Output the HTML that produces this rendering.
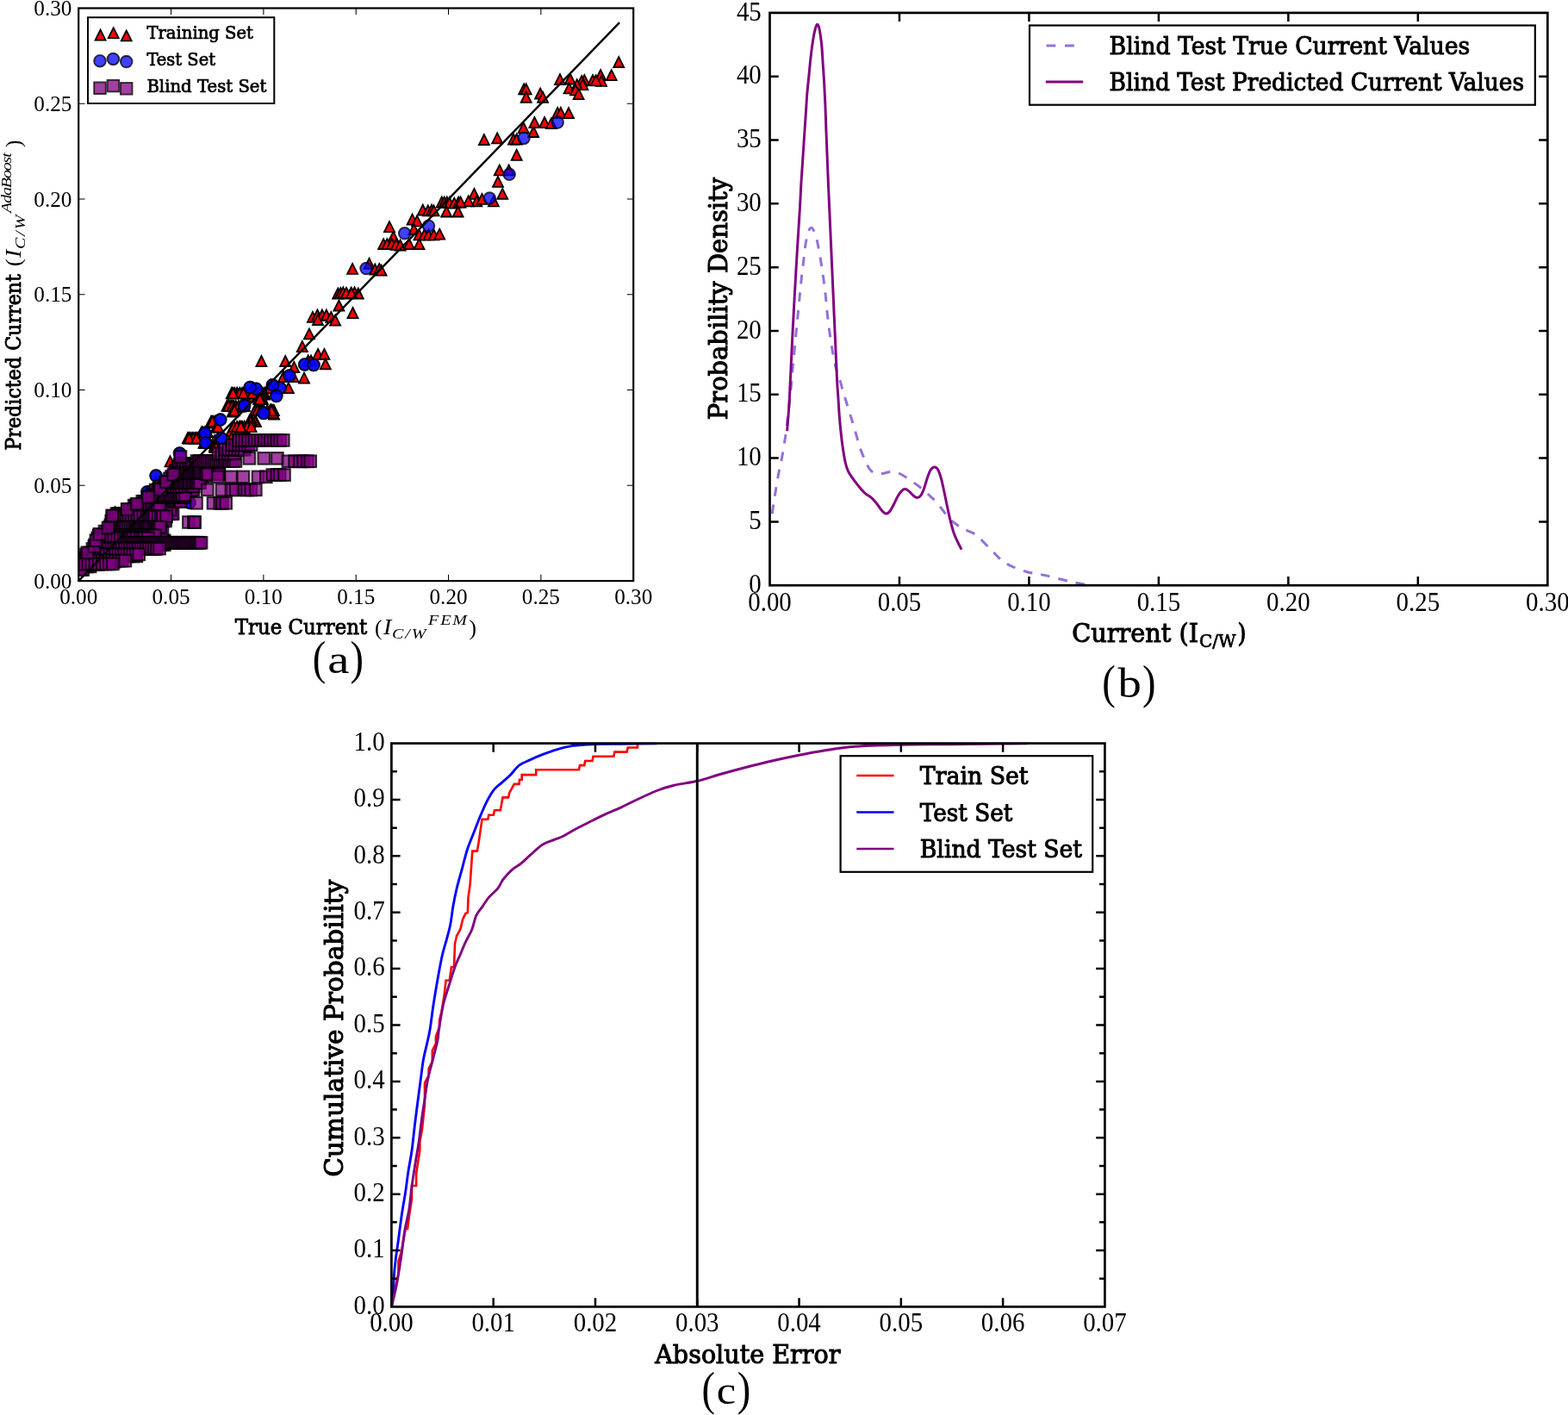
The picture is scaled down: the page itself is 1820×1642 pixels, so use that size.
<!DOCTYPE html>
<html lang="en"><head><meta charset="utf-8"><title>AdaBoost current prediction figure</title>
<style>html,body{margin:0;padding:0;background:#fff}body{width:1820px;height:1642px;overflow:hidden}svg{display:block}.t{font-family:"Liberation Serif","DejaVu Serif",serif;fill:#000}.l{font-family:"DejaVu Serif","Liberation Serif",serif;fill:#000;stroke:#000}</style></head><body>
<svg xmlns="http://www.w3.org/2000/svg" width="1820" height="1642" viewBox="0 0 1820 1642">
<rect width="1820" height="1642" fill="#fff"/>
<g id="pa">
<clipPath id="ca"><rect x="91.2" y="9.5" width="644.0" height="664.6"/></clipPath>
<g clip-path="url(#ca)">
<g id="tr" fill="#f00" stroke="#000" stroke-width="1.8">
<path d="M619.2 147l6 12h-12z"/><path d="M718.2 66l6 12h-12z"/><path d="M709.7 81.2l6 12h-12z"/><path d="M697.1 81l6 12h-12z"/><path d="M698.1 87.9l6 12h-12z"/><path d="M688 87l6 12h-12z"/><path d="M691.7 87.3l6 12h-12z"/><path d="M678.3 87l6 12h-12z"/><path d="M675.2 87.9l6 12h-12z"/><path d="M676.4 92.2l6 12h-12z"/><path d="M661.8 85.5l6 12h-12z"/><path d="M650 86.1l6 12h-12z"/><path d="M660.6 96.4l6 12h-12z"/><path d="M669.7 92.2l6 12h-12z"/><path d="M667.9 98.3l6 12h-12z"/><path d="M671.6 103.1l6 12h-12z"/><path d="M608.2 97.3l6 12h-12z"/><path d="M610.7 97.3l6 12h-12z"/><path d="M610.7 106.8l6 12h-12z"/><path d="M627.1 102.5l6 12h-12z"/><path d="M630.1 106.8l6 12h-12z"/><path d="M647.2 124.8l6 12h-12z"/><path d="M650.9 124.8l6 12h-12z"/><path d="M660 125.1l6 12h-12z"/><path d="M620.4 136l6 12h-12z"/><path d="M632 136l6 12h-12z"/><path d="M639.9 137.2l6 12h-12z"/><path d="M607.6 142.1l6 12h-12z"/><path d="M561.9 156.1l6 12h-12z"/><path d="M577.2 154.3l6 12h-12z"/><path d="M596 155.5l6 12h-12z"/><path d="M599.7 155.5l6 12h-12z"/><path d="M599.7 173.8l6 12h-12z"/><path d="M579.8 191.4l6 12h-12z"/><path d="M590.6 191.4l6 12h-12z"/><path d="M578 204.8l6 12h-12z"/><path d="M583.2 218.9l6 12h-12z"/><path d="M550.4 218.9l6 12h-12z"/><path d="M553.4 227.4l6 12h-12z"/><path d="M559.5 224.9l6 12h-12z"/><path d="M543.7 227.4l6 12h-12z"/><path d="M572.9 227.4l6 12h-12z"/><path d="M512.7 228.5l6 12h-12z"/><path d="M515.7 228.5l6 12h-12z"/><path d="M518.8 228.5l6 12h-12z"/><path d="M521.8 229.1l6 12h-12z"/><path d="M527.3 229.7l6 12h-12z"/><path d="M532.2 228.5l6 12h-12z"/><path d="M534.6 228.5l6 12h-12z"/><path d="M490.8 237.6l6 12h-12z"/><path d="M496.8 238.3l6 12h-12z"/><path d="M501.1 237.6l6 12h-12z"/><path d="M503.5 238.3l6 12h-12z"/><path d="M518.2 239.5l6 12h-12z"/><path d="M531.6 239.5l6 12h-12z"/><path d="M478.6 248.6l6 12h-12z"/><path d="M484.1 250.4l6 12h-12z"/><path d="M452 257.1l6 12h-12z"/><path d="M456.6 268.7l6 12h-12z"/><path d="M480.4 260.2l6 12h-12z"/><path d="M486.5 266.3l6 12h-12z"/><path d="M492.6 266.3l6 12h-12z"/><path d="M497.5 266.3l6 12h-12z"/><path d="M503.5 266.3l6 12h-12z"/><path d="M510.2 265.7l6 12h-12z"/><path d="M445.1 277.2l6 12h-12z"/><path d="M449.3 277.2l6 12h-12z"/><path d="M454.8 277.2l6 12h-12z"/><path d="M459.7 277.8l6 12h-12z"/><path d="M464.6 278.5l6 12h-12z"/><path d="M474.9 277.2l6 12h-12z"/><path d="M486.5 277.2l6 12h-12z"/><path d="M409.1 305.9l6 12h-12z"/><path d="M428.6 299.8l6 12h-12z"/><path d="M435.3 306.5l6 12h-12z"/><path d="M440.2 305.9l6 12h-12z"/><path d="M442.6 307.7l6 12h-12z"/><path d="M402.4 334.5l6 12h-12z"/><path d="M407.3 333.9l6 12h-12z"/><path d="M411.6 333.3l6 12h-12z"/><path d="M415.8 334.5l6 12h-12z"/><path d="M409.5 357l6 12h-12z"/><path d="M392.2 334.5l6 12h-12z"/><path d="M395.2 333.9l6 12h-12z"/><path d="M398.3 333.3l6 12h-12z"/><path d="M401.9 333.9l6 12h-12z"/><path d="M408 333.9l6 12h-12z"/><path d="M393.4 348.5l6 12h-12z"/><path d="M362.9 361.9l6 12h-12z"/><path d="M368.4 359.5l6 12h-12z"/><path d="M373.9 359.5l6 12h-12z"/><path d="M378.8 359.5l6 12h-12z"/><path d="M384.3 361.9l6 12h-12z"/><path d="M389.1 365.6l6 12h-12z"/><path d="M369 365l6 12h-12z"/><path d="M358.9 381.4l6 12h-12z"/><path d="M350.8 396l6 12h-12z"/><path d="M303.4 413l6 12h-12z"/><path d="M331.2 413l6 12h-12z"/><path d="M341.3 420l6 12h-12z"/><path d="M369.1 404.9l6 12h-12z"/><path d="M376.4 404.9l6 12h-12z"/><path d="M377.8 416.3l6 12h-12z"/><path d="M357.7 412.3l6 12h-12z"/><path d="M361 412.6l6 12h-12z"/><path d="M353 432.7l6 12h-12z"/><path d="M334.9 444.1l6 12h-12z"/><path d="M314.8 469.6l6 12h-12z"/><path d="M318.1 474.6l6 12h-12z"/><path d="M269.2 450.3l6 12h-12z"/><path d="M275.6 450.3l6 12h-12z"/><path d="M287 452.3l6 12h-12z"/><path d="M294.3 454.3l6 12h-12z"/><path d="M303 453.6l6 12h-12z"/><path d="M307.1 451.6l6 12h-12z"/><path d="M273.6 466l6 12h-12z"/><path d="M270.2 471.7l6 12h-12z"/><path d="M245.1 483.4l6 12h-12z"/><path d="M251.4 489.8l6 12h-12z"/><path d="M296.3 469l6 12h-12z"/><path d="M313.8 470l6 12h-12z"/><path d="M317.1 473.1l6 12h-12z"/><path d="M289.6 482.1l6 12h-12z"/><path d="M277.6 489.5l6 12h-12z"/><path d="M271.5 489.1l6 12h-12z"/><path d="M268.2 494.2l6 12h-12z"/><path d="M249.1 504.9l6 12h-12z"/><path d="M297 483.1l6 12h-12z"/><path d="M283.6 490.5l6 12h-12z"/><path d="M245.6 484.5l6 12h-12z"/><path d="M277.8 491.2l6 12h-12z"/><path d="M289.8 484.1l6 12h-12z"/><path d="M218.8 502.6l6 12h-12z"/><path d="M223.5 502.6l6 12h-12z"/><path d="M227.5 503.2l6 12h-12z"/><path d="M249 511.3l6 12h-12z"/><path d="M268.4 493.9l6 12h-12z"/><path d="M329 431.1l6 12h-12z"/><path d="M340.5 431.1l6 12h-12z"/><path d="M312 444.1l6 12h-12z"/><path d="M318.5 444.1l6 12h-12z"/><path d="M315.6 444.1l6 12h-12z"/><path d="M313.6 444.4l6 12h-12z"/><path d="M268.9 450l6 12h-12z"/><path d="M275 450l6 12h-12z"/><path d="M281 450l6 12h-12z"/><path d="M285.5 450l6 12h-12z"/><path d="M291.5 450l6 12h-12z"/><path d="M297 450l6 12h-12z"/><path d="M302 450l6 12h-12z"/><path d="M307 450l6 12h-12z"/><path d="M272.3 450l6 12h-12z"/><path d="M278.4 450l6 12h-12z"/><path d="M283.6 450l6 12h-12z"/><path d="M288.9 450l6 12h-12z"/><path d="M294.6 450l6 12h-12z"/><path d="M299.9 450l6 12h-12z"/><path d="M304.9 450l6 12h-12z"/><path d="M270.5 450.3l6 12h-12z"/><path d="M282.6 450.3l6 12h-12z"/><path d="M293.1 450.3l6 12h-12z"/><path d="M303.6 450.3l6 12h-12z"/><path d="M300 456.8l6 12h-12z"/><path d="M305 456.8l6 12h-12z"/><path d="M302.9 456.8l6 12h-12z"/><path d="M301.6 457.1l6 12h-12z"/><path d="M263.5 464.8l6 12h-12z"/><path d="M265.5 464.8l6 12h-12z"/><path d="M268 464.8l6 12h-12z"/><path d="M273.6 464.8l6 12h-12z"/><path d="M279.5 464.8l6 12h-12z"/><path d="M284 464.8l6 12h-12z"/><path d="M264.9 464.8l6 12h-12z"/><path d="M267.1 464.8l6 12h-12z"/><path d="M271.2 464.8l6 12h-12z"/><path d="M276.9 464.8l6 12h-12z"/><path d="M282.1 464.8l6 12h-12z"/><path d="M265.1 465.1l6 12h-12z"/><path d="M269.6 465.1l6 12h-12z"/><path d="M281.1 465.1l6 12h-12z"/><path d="M270.4 470l6 12h-12z"/><path d="M296.3 470l6 12h-12z"/><path d="M301 470l6 12h-12z"/><path d="M306 470l6 12h-12z"/><path d="M313.6 470l6 12h-12z"/><path d="M317.9 470l6 12h-12z"/><path d="M299 470l6 12h-12z"/><path d="M303.9 470l6 12h-12z"/><path d="M310.2 470l6 12h-12z"/><path d="M316.1 470l6 12h-12z"/><path d="M272 470.3l6 12h-12z"/><path d="M302.6 470.3l6 12h-12z"/><path d="M315.2 470.3l6 12h-12z"/><path d="M245 482.9l6 12h-12z"/><path d="M249.5 482.9l6 12h-12z"/><path d="M289.3 482.9l6 12h-12z"/><path d="M295.7 482.9l6 12h-12z"/><path d="M247.7 482.9l6 12h-12z"/><path d="M292.9 482.9l6 12h-12z"/><path d="M246.6 483.2l6 12h-12z"/><path d="M290.9 483.2l6 12h-12z"/><path d="M251.4 488.8l6 12h-12z"/><path d="M271.5 488.8l6 12h-12z"/><path d="M277.9 488.8l6 12h-12z"/><path d="M283.6 488.8l6 12h-12z"/><path d="M290 488.8l6 12h-12z"/><path d="M275.1 488.8l6 12h-12z"/><path d="M281.1 488.8l6 12h-12z"/><path d="M287.2 488.8l6 12h-12z"/><path d="M253 489.1l6 12h-12z"/><path d="M279.5 489.1l6 12h-12z"/><path d="M291.6 489.1l6 12h-12z"/><path d="M234 495.3l6 12h-12z"/><path d="M241 495.3l6 12h-12z"/><path d="M237.9 495.3l6 12h-12z"/><path d="M235.6 495.6l6 12h-12z"/><path d="M217.9 502.2l6 12h-12z"/><path d="M222.1 502.2l6 12h-12z"/><path d="M226.4 502.2l6 12h-12z"/><path d="M230 502.2l6 12h-12z"/><path d="M236 502.2l6 12h-12z"/><path d="M268.6 502.2l6 12h-12z"/><path d="M220.4 502.2l6 12h-12z"/><path d="M224.7 502.2l6 12h-12z"/><path d="M228.6 502.2l6 12h-12z"/><path d="M233.4 502.2l6 12h-12z"/><path d="M219.5 502.5l6 12h-12z"/><path d="M228 502.5l6 12h-12z"/><path d="M237.6 502.5l6 12h-12z"/><path d="M236.5 507.8l6 12h-12z"/><path d="M243 507.8l6 12h-12z"/><path d="M240.2 507.8l6 12h-12z"/><path d="M238.1 508.1l6 12h-12z"/><path d="M249.3 512.9l6 12h-12z"/><path d="M250.9 513.2l6 12h-12z"/><path d="M197.5 529.3l6 12h-12z"/><path d="M199.5 538.3l6 12h-12z"/><path d="M203 538.3l6 12h-12z"/><path d="M181 553.3l6 12h-12z"/><path d="M133.6 588.3l6 12h-12z"/><path d="M210.5 576.8l6 12h-12z"/><path d="M185.5 594.8l6 12h-12z"/>
</g>
<g id="ci" fill="#00f" fill-opacity="0.75" stroke="#000" stroke-opacity="0.75" stroke-width="1.9">
<circle cx="647.2" cy="142.1" r="6.8"/><circle cx="608" cy="160.4" r="6.8"/><circle cx="591.2" cy="202.3" r="6.8"/><circle cx="568.3" cy="230" r="6.8"/><circle cx="497.5" cy="262.2" r="6.8"/><circle cx="469.7" cy="270.8" r="6.8"/><circle cx="425" cy="311.6" r="6.8"/><circle cx="335.9" cy="436.1" r="6.8"/><circle cx="325.1" cy="450.2" r="6.8"/><circle cx="316.4" cy="446.8" r="6.8"/><circle cx="320.8" cy="459.5" r="6.8"/><circle cx="297.3" cy="451.2" r="6.8"/><circle cx="290.3" cy="449.5" r="6.8"/><circle cx="283.6" cy="470.9" r="6.8"/><circle cx="306" cy="479.6" r="6.8"/><circle cx="255.8" cy="487" r="6.8"/><circle cx="238" cy="502.7" r="6.8"/><circle cx="238.7" cy="513.8" r="6.8"/><circle cx="256.8" cy="508.4" r="6.8"/><circle cx="353.7" cy="422.9" r="6.8"/><circle cx="364" cy="423.6" r="6.8"/><circle cx="181.1" cy="552.1" r="6.8"/><circle cx="170.8" cy="571" r="6.8"/><circle cx="220.1" cy="583.2" r="6.8"/><circle cx="208.5" cy="526" r="6.8"/><circle cx="335.9" cy="436.1" r="6.8"/><circle cx="325.1" cy="450.2" r="6.8"/><circle cx="316.4" cy="446.8" r="6.8"/><circle cx="320.8" cy="459.5" r="6.8"/><circle cx="297.3" cy="451.2" r="6.8"/><circle cx="290.3" cy="449.5" r="6.8"/><circle cx="283.6" cy="470.9" r="6.8"/><circle cx="306" cy="479.6" r="6.8"/><circle cx="255.8" cy="487" r="6.8"/><circle cx="238" cy="502.7" r="6.8"/><circle cx="238.7" cy="513.8" r="6.8"/><circle cx="256.8" cy="508.4" r="6.8"/><circle cx="353.7" cy="422.9" r="6.8"/><circle cx="364" cy="423.6" r="6.8"/><circle cx="181.1" cy="552.1" r="6.8"/><circle cx="170.8" cy="571" r="6.8"/><circle cx="220.1" cy="583.2" r="6.8"/><circle cx="208.5" cy="526" r="6.8"/>
</g>
<g id="sq" fill="#800080" fill-opacity="0.75" stroke="#000" stroke-opacity="0.78" stroke-width="2.1">
<rect x="128.7" y="589.4" width="13.6" height="13.6"/><rect x="130.5" y="589.4" width="13.6" height="13.6"/><rect x="131.7" y="589.4" width="13.6" height="13.6"/><rect x="133.8" y="589.4" width="13.6" height="13.6"/><rect x="135.5" y="589.4" width="13.6" height="13.6"/><rect x="137.4" y="589.4" width="13.6" height="13.6"/><rect x="140.1" y="589.4" width="13.6" height="13.6"/><rect x="142.1" y="589.4" width="13.6" height="13.6"/><rect x="144.3" y="589.4" width="13.6" height="13.6"/><rect x="145.5" y="589.4" width="13.6" height="13.6"/><rect x="146.9" y="589.4" width="13.6" height="13.6"/><rect x="148.4" y="589.4" width="13.6" height="13.6"/><rect x="149.5" y="589.4" width="13.6" height="13.6"/><rect x="151.1" y="589.4" width="13.6" height="13.6"/><rect x="152.7" y="589.4" width="13.6" height="13.6"/><rect x="155.4" y="589.4" width="13.6" height="13.6"/><rect x="157" y="589.4" width="13.6" height="13.6"/><rect x="158.2" y="589.4" width="13.6" height="13.6"/><rect x="160.7" y="589.4" width="13.6" height="13.6"/><rect x="162.1" y="589.4" width="13.6" height="13.6"/><rect x="163.5" y="589.4" width="13.6" height="13.6"/><rect x="165.1" y="589.4" width="13.6" height="13.6"/><rect x="166.3" y="589.4" width="13.6" height="13.6"/><rect x="167.8" y="589.4" width="13.6" height="13.6"/><rect x="170" y="589.4" width="13.6" height="13.6"/><rect x="171.5" y="589.4" width="13.6" height="13.6"/><rect x="173.8" y="589.4" width="13.6" height="13.6"/><rect x="175" y="589.4" width="13.6" height="13.6"/><rect x="177.4" y="589.4" width="13.6" height="13.6"/><rect x="178.8" y="589.4" width="13.6" height="13.6"/><rect x="180.8" y="589.4" width="13.6" height="13.6"/><rect x="182.5" y="589.4" width="13.6" height="13.6"/><rect x="184.1" y="589.4" width="13.6" height="13.6"/><rect x="186.2" y="589.4" width="13.6" height="13.6"/><rect x="187.4" y="589.4" width="13.6" height="13.6"/><rect x="190" y="589.4" width="13.6" height="13.6"/><rect x="192.5" y="589.4" width="13.6" height="13.6"/><rect x="193.8" y="589.4" width="13.6" height="13.6"/><rect x="92.2" y="641" width="13.6" height="13.6"/><rect x="95.9" y="641" width="13.6" height="13.6"/><rect x="97.8" y="641" width="13.6" height="13.6"/><rect x="100.2" y="641" width="13.6" height="13.6"/><rect x="103.1" y="641" width="13.6" height="13.6"/><rect x="105.7" y="641" width="13.6" height="13.6"/><rect x="108.5" y="641" width="13.6" height="13.6"/><rect x="111.7" y="641" width="13.6" height="13.6"/><rect x="113.6" y="641" width="13.6" height="13.6"/><rect x="116.5" y="641" width="13.6" height="13.6"/><rect x="118.6" y="641" width="13.6" height="13.6"/><rect x="121.2" y="641" width="13.6" height="13.6"/><rect x="125.2" y="641" width="13.6" height="13.6"/><rect x="128" y="641" width="13.6" height="13.6"/><rect x="141.4" y="584.6" width="13.6" height="13.6"/><rect x="143.9" y="584.6" width="13.6" height="13.6"/><rect x="148.1" y="584.6" width="13.6" height="13.6"/><rect x="152.1" y="584.6" width="13.6" height="13.6"/><rect x="154.3" y="584.6" width="13.6" height="13.6"/><rect x="158.9" y="584.6" width="13.6" height="13.6"/><rect x="163.7" y="584.6" width="13.6" height="13.6"/><rect x="167.6" y="584.6" width="13.6" height="13.6"/><rect x="171.9" y="584.6" width="13.6" height="13.6"/><rect x="176.5" y="584.6" width="13.6" height="13.6"/><rect x="178.9" y="584.6" width="13.6" height="13.6"/><rect x="182.6" y="584.6" width="13.6" height="13.6"/><rect x="186.2" y="584.6" width="13.6" height="13.6"/><rect x="190.7" y="584.6" width="13.6" height="13.6"/><rect x="123.8" y="595.4" width="13.6" height="13.6"/><rect x="128.1" y="595.4" width="13.6" height="13.6"/><rect x="131.9" y="595.4" width="13.6" height="13.6"/><rect x="136.5" y="595.4" width="13.6" height="13.6"/><rect x="142.5" y="595.4" width="13.6" height="13.6"/><rect x="146" y="595.4" width="13.6" height="13.6"/><rect x="149.1" y="595.4" width="13.6" height="13.6"/><rect x="153.6" y="595.4" width="13.6" height="13.6"/><rect x="157" y="595.4" width="13.6" height="13.6"/><rect x="159.9" y="595.4" width="13.6" height="13.6"/><rect x="163.1" y="595.4" width="13.6" height="13.6"/><rect x="165.8" y="595.4" width="13.6" height="13.6"/><rect x="169" y="595.4" width="13.6" height="13.6"/><rect x="172.7" y="595.4" width="13.6" height="13.6"/><rect x="176.4" y="595.4" width="13.6" height="13.6"/><rect x="181.8" y="595.4" width="13.6" height="13.6"/><rect x="185.4" y="595.4" width="13.6" height="13.6"/><rect x="171.4" y="564.2" width="13.6" height="13.6"/><rect x="173.5" y="564.2" width="13.6" height="13.6"/><rect x="177.8" y="564.2" width="13.6" height="13.6"/><rect x="180.6" y="564.2" width="13.6" height="13.6"/><rect x="182.9" y="564.2" width="13.6" height="13.6"/><rect x="186.1" y="564.2" width="13.6" height="13.6"/><rect x="190.8" y="564.2" width="13.6" height="13.6"/><rect x="193.1" y="564.2" width="13.6" height="13.6"/><rect x="198" y="564.2" width="13.6" height="13.6"/><rect x="158.5" y="575" width="13.6" height="13.6"/><rect x="161" y="575" width="13.6" height="13.6"/><rect x="162.4" y="575" width="13.6" height="13.6"/><rect x="164.7" y="575" width="13.6" height="13.6"/><rect x="166.2" y="575" width="13.6" height="13.6"/><rect x="168.3" y="575" width="13.6" height="13.6"/><rect x="170.2" y="575" width="13.6" height="13.6"/><rect x="172.6" y="575" width="13.6" height="13.6"/><rect x="173.8" y="575" width="13.6" height="13.6"/><rect x="176.4" y="575" width="13.6" height="13.6"/><rect x="177.9" y="575" width="13.6" height="13.6"/><rect x="179.1" y="575" width="13.6" height="13.6"/><rect x="181.2" y="575" width="13.6" height="13.6"/><rect x="182.6" y="575" width="13.6" height="13.6"/><rect x="184.6" y="575" width="13.6" height="13.6"/><rect x="186.2" y="575" width="13.6" height="13.6"/><rect x="188.4" y="575" width="13.6" height="13.6"/><rect x="190.6" y="575" width="13.6" height="13.6"/><rect x="192.7" y="575" width="13.6" height="13.6"/><rect x="194" y="575" width="13.6" height="13.6"/><rect x="195.8" y="575" width="13.6" height="13.6"/><rect x="197.7" y="575" width="13.6" height="13.6"/><rect x="200.3" y="575" width="13.6" height="13.6"/><rect x="201.6" y="575" width="13.6" height="13.6"/><rect x="203" y="575" width="13.6" height="13.6"/><rect x="148.9" y="579.8" width="13.6" height="13.6"/><rect x="151" y="579.8" width="13.6" height="13.6"/><rect x="152.6" y="579.8" width="13.6" height="13.6"/><rect x="155.7" y="579.8" width="13.6" height="13.6"/><rect x="158.2" y="579.8" width="13.6" height="13.6"/><rect x="160.9" y="579.8" width="13.6" height="13.6"/><rect x="163.6" y="579.8" width="13.6" height="13.6"/><rect x="166.4" y="579.8" width="13.6" height="13.6"/><rect x="168.8" y="579.8" width="13.6" height="13.6"/><rect x="170.2" y="579.8" width="13.6" height="13.6"/><rect x="173.2" y="579.8" width="13.6" height="13.6"/><rect x="176.1" y="579.8" width="13.6" height="13.6"/><rect x="178.5" y="579.8" width="13.6" height="13.6"/><rect x="197.2" y="539" width="13.6" height="13.6"/><rect x="202.2" y="539" width="13.6" height="13.6"/><rect x="204.9" y="539" width="13.6" height="13.6"/><rect x="208.2" y="539" width="13.6" height="13.6"/><rect x="214.1" y="539" width="13.6" height="13.6"/><rect x="219" y="539" width="13.6" height="13.6"/><rect x="221.8" y="539" width="13.6" height="13.6"/><rect x="225.2" y="539" width="13.6" height="13.6"/><rect x="166.1" y="570.2" width="13.6" height="13.6"/><rect x="170.3" y="570.2" width="13.6" height="13.6"/><rect x="173.4" y="570.2" width="13.6" height="13.6"/><rect x="175.8" y="570.2" width="13.6" height="13.6"/><rect x="177.7" y="570.2" width="13.6" height="13.6"/><rect x="180.6" y="570.2" width="13.6" height="13.6"/><rect x="183" y="570.2" width="13.6" height="13.6"/><rect x="184.9" y="570.2" width="13.6" height="13.6"/><rect x="187.8" y="570.2" width="13.6" height="13.6"/><rect x="192" y="570.2" width="13.6" height="13.6"/><rect x="196.2" y="570.2" width="13.6" height="13.6"/><rect x="198.9" y="570.2" width="13.6" height="13.6"/><rect x="202.9" y="570.2" width="13.6" height="13.6"/><rect x="206.9" y="570.2" width="13.6" height="13.6"/><rect x="201.6" y="531.8" width="13.6" height="13.6"/><rect x="204.1" y="531.8" width="13.6" height="13.6"/><rect x="206" y="531.8" width="13.6" height="13.6"/><rect x="208.5" y="531.8" width="13.6" height="13.6"/><rect x="209.7" y="531.8" width="13.6" height="13.6"/><rect x="211.8" y="531.8" width="13.6" height="13.6"/><rect x="214.3" y="531.8" width="13.6" height="13.6"/><rect x="215.5" y="531.8" width="13.6" height="13.6"/><rect x="216.6" y="531.8" width="13.6" height="13.6"/><rect x="218.7" y="531.8" width="13.6" height="13.6"/><rect x="220.4" y="531.8" width="13.6" height="13.6"/><rect x="222.7" y="531.8" width="13.6" height="13.6"/><rect x="224" y="531.8" width="13.6" height="13.6"/><rect x="225.8" y="531.8" width="13.6" height="13.6"/><rect x="228.1" y="531.8" width="13.6" height="13.6"/><rect x="229.7" y="531.8" width="13.6" height="13.6"/><rect x="230.9" y="531.8" width="13.6" height="13.6"/><rect x="232.1" y="531.8" width="13.6" height="13.6"/><rect x="233.5" y="531.8" width="13.6" height="13.6"/><rect x="234.9" y="531.8" width="13.6" height="13.6"/><rect x="237" y="531.8" width="13.6" height="13.6"/><rect x="238.9" y="531.8" width="13.6" height="13.6"/><rect x="240.8" y="531.8" width="13.6" height="13.6"/><rect x="242.4" y="531.8" width="13.6" height="13.6"/><rect x="244.6" y="531.8" width="13.6" height="13.6"/><rect x="247.1" y="531.8" width="13.6" height="13.6"/><rect x="121.5" y="602.6" width="13.6" height="13.6"/><rect x="126.1" y="602.6" width="13.6" height="13.6"/><rect x="128.6" y="602.6" width="13.6" height="13.6"/><rect x="132" y="602.6" width="13.6" height="13.6"/><rect x="135.6" y="602.6" width="13.6" height="13.6"/><rect x="138.7" y="602.6" width="13.6" height="13.6"/><rect x="141.3" y="602.6" width="13.6" height="13.6"/><rect x="144.3" y="602.6" width="13.6" height="13.6"/><rect x="148.6" y="602.6" width="13.6" height="13.6"/><rect x="150.7" y="602.6" width="13.6" height="13.6"/><rect x="154.4" y="602.6" width="13.6" height="13.6"/><rect x="157.8" y="602.6" width="13.6" height="13.6"/><rect x="159.9" y="602.6" width="13.6" height="13.6"/><rect x="173.8" y="561.8" width="13.6" height="13.6"/><rect x="177.1" y="561.8" width="13.6" height="13.6"/><rect x="179.1" y="561.8" width="13.6" height="13.6"/><rect x="183.3" y="561.8" width="13.6" height="13.6"/><rect x="186" y="561.8" width="13.6" height="13.6"/><rect x="188.5" y="561.8" width="13.6" height="13.6"/><rect x="192.1" y="561.8" width="13.6" height="13.6"/><rect x="195.8" y="561.8" width="13.6" height="13.6"/><rect x="198.6" y="561.8" width="13.6" height="13.6"/><rect x="200.3" y="561.8" width="13.6" height="13.6"/><rect x="203.9" y="561.8" width="13.6" height="13.6"/><rect x="206.6" y="561.8" width="13.6" height="13.6"/><rect x="210.5" y="561.8" width="13.6" height="13.6"/><rect x="213.6" y="561.8" width="13.6" height="13.6"/><rect x="215.8" y="561.8" width="13.6" height="13.6"/><rect x="217.6" y="561.8" width="13.6" height="13.6"/><rect x="100.6" y="630.2" width="13.6" height="13.6"/><rect x="106.5" y="630.2" width="13.6" height="13.6"/><rect x="111.9" y="630.2" width="13.6" height="13.6"/><rect x="117.8" y="630.2" width="13.6" height="13.6"/><rect x="123.3" y="630.2" width="13.6" height="13.6"/><rect x="127.3" y="630.2" width="13.6" height="13.6"/><rect x="131.3" y="630.2" width="13.6" height="13.6"/><rect x="134.3" y="630.2" width="13.6" height="13.6"/><rect x="139.2" y="630.2" width="13.6" height="13.6"/><rect x="141.9" y="630.2" width="13.6" height="13.6"/><rect x="144.7" y="630.2" width="13.6" height="13.6"/><rect x="148" y="630.2" width="13.6" height="13.6"/><rect x="151.1" y="630.2" width="13.6" height="13.6"/><rect x="154.9" y="630.2" width="13.6" height="13.6"/><rect x="157.7" y="630.2" width="13.6" height="13.6"/><rect x="160.2" y="630.2" width="13.6" height="13.6"/><rect x="163.3" y="630.2" width="13.6" height="13.6"/><rect x="166.2" y="630.2" width="13.6" height="13.6"/><rect x="170.1" y="630.2" width="13.6" height="13.6"/><rect x="172.7" y="630.2" width="13.6" height="13.6"/><rect x="192.3" y="546.2" width="13.6" height="13.6"/><rect x="195.7" y="546.2" width="13.6" height="13.6"/><rect x="198.1" y="546.2" width="13.6" height="13.6"/><rect x="199.6" y="546.2" width="13.6" height="13.6"/><rect x="203" y="546.2" width="13.6" height="13.6"/><rect x="206.3" y="546.2" width="13.6" height="13.6"/><rect x="208.7" y="546.2" width="13.6" height="13.6"/><rect x="211.1" y="546.2" width="13.6" height="13.6"/><rect x="213.4" y="546.2" width="13.6" height="13.6"/><rect x="216.4" y="546.2" width="13.6" height="13.6"/><rect x="218.2" y="546.2" width="13.6" height="13.6"/><rect x="219.9" y="546.2" width="13.6" height="13.6"/><rect x="223.3" y="546.2" width="13.6" height="13.6"/><rect x="224.9" y="546.2" width="13.6" height="13.6"/><rect x="228" y="546.2" width="13.6" height="13.6"/><rect x="230.8" y="546.2" width="13.6" height="13.6"/><rect x="93.9" y="638.6" width="13.6" height="13.6"/><rect x="97.7" y="638.6" width="13.6" height="13.6"/><rect x="101.5" y="638.6" width="13.6" height="13.6"/><rect x="105.9" y="638.6" width="13.6" height="13.6"/><rect x="111.5" y="638.6" width="13.6" height="13.6"/><rect x="114.2" y="638.6" width="13.6" height="13.6"/><rect x="117.1" y="638.6" width="13.6" height="13.6"/><rect x="120.7" y="638.6" width="13.6" height="13.6"/><rect x="125.8" y="638.6" width="13.6" height="13.6"/><rect x="128.6" y="638.6" width="13.6" height="13.6"/><rect x="133.9" y="638.6" width="13.6" height="13.6"/><rect x="137.6" y="638.6" width="13.6" height="13.6"/><rect x="142.3" y="638.6" width="13.6" height="13.6"/><rect x="147.4" y="638.6" width="13.6" height="13.6"/><rect x="151.6" y="638.6" width="13.6" height="13.6"/><rect x="169.1" y="567.8" width="13.6" height="13.6"/><rect x="170.7" y="567.8" width="13.6" height="13.6"/><rect x="173.8" y="567.8" width="13.6" height="13.6"/><rect x="176.3" y="567.8" width="13.6" height="13.6"/><rect x="179.5" y="567.8" width="13.6" height="13.6"/><rect x="182.3" y="567.8" width="13.6" height="13.6"/><rect x="184.2" y="567.8" width="13.6" height="13.6"/><rect x="187.4" y="567.8" width="13.6" height="13.6"/><rect x="189.8" y="567.8" width="13.6" height="13.6"/><rect x="191.2" y="567.8" width="13.6" height="13.6"/><rect x="192.6" y="567.8" width="13.6" height="13.6"/><rect x="195" y="567.8" width="13.6" height="13.6"/><rect x="197.3" y="567.8" width="13.6" height="13.6"/><rect x="199.3" y="567.8" width="13.6" height="13.6"/><rect x="201" y="567.8" width="13.6" height="13.6"/><rect x="203.1" y="567.8" width="13.6" height="13.6"/><rect x="205.1" y="567.8" width="13.6" height="13.6"/><rect x="208.2" y="567.8" width="13.6" height="13.6"/><rect x="122.4" y="597.8" width="13.6" height="13.6"/><rect x="126.5" y="597.8" width="13.6" height="13.6"/><rect x="128.4" y="597.8" width="13.6" height="13.6"/><rect x="130.8" y="597.8" width="13.6" height="13.6"/><rect x="132.6" y="597.8" width="13.6" height="13.6"/><rect x="136.2" y="597.8" width="13.6" height="13.6"/><rect x="138.6" y="597.8" width="13.6" height="13.6"/><rect x="140.6" y="597.8" width="13.6" height="13.6"/><rect x="143.3" y="597.8" width="13.6" height="13.6"/><rect x="147.3" y="597.8" width="13.6" height="13.6"/><rect x="151" y="597.8" width="13.6" height="13.6"/><rect x="153.4" y="597.8" width="13.6" height="13.6"/><rect x="155.4" y="597.8" width="13.6" height="13.6"/><rect x="159.4" y="597.8" width="13.6" height="13.6"/><rect x="162.5" y="597.8" width="13.6" height="13.6"/><rect x="166" y="597.8" width="13.6" height="13.6"/><rect x="167.9" y="597.8" width="13.6" height="13.6"/><rect x="169.7" y="597.8" width="13.6" height="13.6"/><rect x="173.1" y="597.8" width="13.6" height="13.6"/><rect x="175.9" y="597.8" width="13.6" height="13.6"/><rect x="177.7" y="597.8" width="13.6" height="13.6"/><rect x="181.8" y="597.8" width="13.6" height="13.6"/><rect x="185.1" y="597.8" width="13.6" height="13.6"/><rect x="87.4" y="650.6" width="13.6" height="13.6"/><rect x="90.2" y="650.6" width="13.6" height="13.6"/><rect x="94.4" y="650.6" width="13.6" height="13.6"/><rect x="97.8" y="650.6" width="13.6" height="13.6"/><rect x="190.1" y="548.6" width="13.6" height="13.6"/><rect x="193.8" y="548.6" width="13.6" height="13.6"/><rect x="197.6" y="548.6" width="13.6" height="13.6"/><rect x="199.5" y="548.6" width="13.6" height="13.6"/><rect x="203.4" y="548.6" width="13.6" height="13.6"/><rect x="206.1" y="548.6" width="13.6" height="13.6"/><rect x="209.4" y="548.6" width="13.6" height="13.6"/><rect x="212.2" y="548.6" width="13.6" height="13.6"/><rect x="214.6" y="548.6" width="13.6" height="13.6"/><rect x="180" y="557.6" width="13.6" height="13.6"/><rect x="183.5" y="557.6" width="13.6" height="13.6"/><rect x="188.4" y="557.6" width="13.6" height="13.6"/><rect x="192.1" y="557.6" width="13.6" height="13.6"/><rect x="194.6" y="557.6" width="13.6" height="13.6"/><rect x="198" y="557.6" width="13.6" height="13.6"/><rect x="200.9" y="557.6" width="13.6" height="13.6"/><rect x="203.7" y="557.6" width="13.6" height="13.6"/><rect x="208" y="557.6" width="13.6" height="13.6"/><rect x="212" y="557.6" width="13.6" height="13.6"/><rect x="215.3" y="557.6" width="13.6" height="13.6"/><rect x="218.1" y="557.6" width="13.6" height="13.6"/><rect x="106.4" y="620.6" width="13.6" height="13.6"/><rect x="109.4" y="620.6" width="13.6" height="13.6"/><rect x="113" y="620.6" width="13.6" height="13.6"/><rect x="115.5" y="620.6" width="13.6" height="13.6"/><rect x="117.8" y="620.6" width="13.6" height="13.6"/><rect x="121.5" y="620.6" width="13.6" height="13.6"/><rect x="125.7" y="620.6" width="13.6" height="13.6"/><rect x="129.5" y="620.6" width="13.6" height="13.6"/><rect x="133.2" y="620.6" width="13.6" height="13.6"/><rect x="136.9" y="620.6" width="13.6" height="13.6"/><rect x="140.5" y="620.6" width="13.6" height="13.6"/><rect x="142.7" y="620.6" width="13.6" height="13.6"/><rect x="145.7" y="620.6" width="13.6" height="13.6"/><rect x="148.3" y="620.6" width="13.6" height="13.6"/><rect x="150.1" y="620.6" width="13.6" height="13.6"/><rect x="151.8" y="620.6" width="13.6" height="13.6"/><rect x="154.2" y="620.6" width="13.6" height="13.6"/><rect x="156.5" y="620.6" width="13.6" height="13.6"/><rect x="159.9" y="620.6" width="13.6" height="13.6"/><rect x="164" y="620.6" width="13.6" height="13.6"/><rect x="166.8" y="620.6" width="13.6" height="13.6"/><rect x="170.9" y="620.6" width="13.6" height="13.6"/><rect x="175.1" y="620.6" width="13.6" height="13.6"/><rect x="179.1" y="620.6" width="13.6" height="13.6"/><rect x="181.7" y="620.6" width="13.6" height="13.6"/><rect x="184" y="620.6" width="13.6" height="13.6"/><rect x="184.9" y="553.4" width="13.6" height="13.6"/><rect x="186.8" y="553.4" width="13.6" height="13.6"/><rect x="189.2" y="553.4" width="13.6" height="13.6"/><rect x="191.1" y="553.4" width="13.6" height="13.6"/><rect x="193" y="553.4" width="13.6" height="13.6"/><rect x="194.6" y="553.4" width="13.6" height="13.6"/><rect x="196.9" y="553.4" width="13.6" height="13.6"/><rect x="198.7" y="553.4" width="13.6" height="13.6"/><rect x="200.6" y="553.4" width="13.6" height="13.6"/><rect x="202.1" y="553.4" width="13.6" height="13.6"/><rect x="203.5" y="553.4" width="13.6" height="13.6"/><rect x="205.4" y="553.4" width="13.6" height="13.6"/><rect x="207" y="553.4" width="13.6" height="13.6"/><rect x="208.7" y="553.4" width="13.6" height="13.6"/><rect x="211.1" y="553.4" width="13.6" height="13.6"/><rect x="212.5" y="553.4" width="13.6" height="13.6"/><rect x="213.6" y="553.4" width="13.6" height="13.6"/><rect x="216.1" y="553.4" width="13.6" height="13.6"/><rect x="217.8" y="553.4" width="13.6" height="13.6"/><rect x="220.1" y="553.4" width="13.6" height="13.6"/><rect x="221.5" y="553.4" width="13.6" height="13.6"/><rect x="223" y="553.4" width="13.6" height="13.6"/><rect x="225.3" y="553.4" width="13.6" height="13.6"/><rect x="114.7" y="609.8" width="13.6" height="13.6"/><rect x="118.3" y="609.8" width="13.6" height="13.6"/><rect x="122" y="609.8" width="13.6" height="13.6"/><rect x="124.1" y="609.8" width="13.6" height="13.6"/><rect x="127.5" y="609.8" width="13.6" height="13.6"/><rect x="130.1" y="609.8" width="13.6" height="13.6"/><rect x="132.1" y="609.8" width="13.6" height="13.6"/><rect x="136.6" y="609.8" width="13.6" height="13.6"/><rect x="139.2" y="609.8" width="13.6" height="13.6"/><rect x="142.7" y="609.8" width="13.6" height="13.6"/><rect x="146.9" y="609.8" width="13.6" height="13.6"/><rect x="150.7" y="609.8" width="13.6" height="13.6"/><rect x="153.7" y="609.8" width="13.6" height="13.6"/><rect x="157.3" y="609.8" width="13.6" height="13.6"/><rect x="161.1" y="609.8" width="13.6" height="13.6"/><rect x="165.5" y="609.8" width="13.6" height="13.6"/><rect x="167.9" y="609.8" width="13.6" height="13.6"/><rect x="171.6" y="609.8" width="13.6" height="13.6"/><rect x="174.4" y="609.8" width="13.6" height="13.6"/><rect x="177.3" y="609.8" width="13.6" height="13.6"/><rect x="181.7" y="609.8" width="13.6" height="13.6"/><rect x="199.3" y="535.4" width="13.6" height="13.6"/><rect x="201.5" y="535.4" width="13.6" height="13.6"/><rect x="204.3" y="535.4" width="13.6" height="13.6"/><rect x="206.1" y="535.4" width="13.6" height="13.6"/><rect x="209.1" y="535.4" width="13.6" height="13.6"/><rect x="212" y="535.4" width="13.6" height="13.6"/><rect x="214.5" y="535.4" width="13.6" height="13.6"/><rect x="216.3" y="535.4" width="13.6" height="13.6"/><rect x="219.6" y="535.4" width="13.6" height="13.6"/><rect x="221.7" y="535.4" width="13.6" height="13.6"/><rect x="224.7" y="535.4" width="13.6" height="13.6"/><rect x="226.6" y="535.4" width="13.6" height="13.6"/><rect x="228.4" y="535.4" width="13.6" height="13.6"/><rect x="123.8" y="592.4" width="13.6" height="13.6"/><rect x="125.6" y="592.4" width="13.6" height="13.6"/><rect x="127.3" y="592.4" width="13.6" height="13.6"/><rect x="130.3" y="592.4" width="13.6" height="13.6"/><rect x="134.4" y="592.4" width="13.6" height="13.6"/><rect x="137.4" y="592.4" width="13.6" height="13.6"/><rect x="139.7" y="592.4" width="13.6" height="13.6"/><rect x="142.5" y="592.4" width="13.6" height="13.6"/><rect x="145.8" y="592.4" width="13.6" height="13.6"/><rect x="149.2" y="592.4" width="13.6" height="13.6"/><rect x="152.5" y="592.4" width="13.6" height="13.6"/><rect x="155.6" y="592.4" width="13.6" height="13.6"/><rect x="159.5" y="592.4" width="13.6" height="13.6"/><rect x="163.6" y="592.4" width="13.6" height="13.6"/><rect x="166.1" y="592.4" width="13.6" height="13.6"/><rect x="168.3" y="592.4" width="13.6" height="13.6"/><rect x="170.5" y="592.4" width="13.6" height="13.6"/><rect x="172.7" y="592.4" width="13.6" height="13.6"/><rect x="176.6" y="592.4" width="13.6" height="13.6"/><rect x="180.1" y="592.4" width="13.6" height="13.6"/><rect x="182.2" y="592.4" width="13.6" height="13.6"/><rect x="186.3" y="592.4" width="13.6" height="13.6"/><rect x="90.6" y="645.2" width="13.6" height="13.6"/><rect x="93" y="645.2" width="13.6" height="13.6"/><rect x="96.8" y="645.2" width="13.6" height="13.6"/><rect x="98.9" y="645.2" width="13.6" height="13.6"/><rect x="102.1" y="645.2" width="13.6" height="13.6"/><rect x="105.3" y="645.2" width="13.6" height="13.6"/><rect x="108" y="645.2" width="13.6" height="13.6"/><rect x="111" y="645.2" width="13.6" height="13.6"/><rect x="112.9" y="645.2" width="13.6" height="13.6"/><rect x="114.7" y="645.2" width="13.6" height="13.6"/><rect x="116.9" y="645.2" width="13.6" height="13.6"/><rect x="120.3" y="645.2" width="13.6" height="13.6"/><rect x="123" y="645.2" width="13.6" height="13.6"/><rect x="125.5" y="645.2" width="13.6" height="13.6"/><rect x="120.5" y="605" width="13.6" height="13.6"/><rect x="122.1" y="605" width="13.6" height="13.6"/><rect x="124.7" y="605" width="13.6" height="13.6"/><rect x="126.8" y="605" width="13.6" height="13.6"/><rect x="128.2" y="605" width="13.6" height="13.6"/><rect x="129.7" y="605" width="13.6" height="13.6"/><rect x="131.6" y="605" width="13.6" height="13.6"/><rect x="134" y="605" width="13.6" height="13.6"/><rect x="135.9" y="605" width="13.6" height="13.6"/><rect x="137.4" y="605" width="13.6" height="13.6"/><rect x="139.3" y="605" width="13.6" height="13.6"/><rect x="141.8" y="605" width="13.6" height="13.6"/><rect x="144.4" y="605" width="13.6" height="13.6"/><rect x="147" y="605" width="13.6" height="13.6"/><rect x="149.5" y="605" width="13.6" height="13.6"/><rect x="150.9" y="605" width="13.6" height="13.6"/><rect x="152.7" y="605" width="13.6" height="13.6"/><rect x="154.5" y="605" width="13.6" height="13.6"/><rect x="156.2" y="605" width="13.6" height="13.6"/><rect x="157.8" y="605" width="13.6" height="13.6"/><rect x="159.9" y="605" width="13.6" height="13.6"/><rect x="161.7" y="605" width="13.6" height="13.6"/><rect x="163.1" y="605" width="13.6" height="13.6"/><rect x="164.7" y="605" width="13.6" height="13.6"/><rect x="166" y="605" width="13.6" height="13.6"/><rect x="168.3" y="605" width="13.6" height="13.6"/><rect x="170.9" y="605" width="13.6" height="13.6"/><rect x="173.1" y="605" width="13.6" height="13.6"/><rect x="174.7" y="605" width="13.6" height="13.6"/><rect x="176.2" y="605" width="13.6" height="13.6"/><rect x="177.5" y="605" width="13.6" height="13.6"/><rect x="179.4" y="605" width="13.6" height="13.6"/><rect x="107.8" y="614.6" width="13.6" height="13.6"/><rect x="110.8" y="614.6" width="13.6" height="13.6"/><rect x="112.5" y="614.6" width="13.6" height="13.6"/><rect x="115.6" y="614.6" width="13.6" height="13.6"/><rect x="119" y="614.6" width="13.6" height="13.6"/><rect x="121.8" y="614.6" width="13.6" height="13.6"/><rect x="123.9" y="614.6" width="13.6" height="13.6"/><rect x="126.4" y="614.6" width="13.6" height="13.6"/><rect x="128" y="614.6" width="13.6" height="13.6"/><rect x="129.4" y="614.6" width="13.6" height="13.6"/><rect x="132.8" y="614.6" width="13.6" height="13.6"/><rect x="135.6" y="614.6" width="13.6" height="13.6"/><rect x="138" y="614.6" width="13.6" height="13.6"/><rect x="141.3" y="614.6" width="13.6" height="13.6"/><rect x="143.6" y="614.6" width="13.6" height="13.6"/><rect x="146.8" y="614.6" width="13.6" height="13.6"/><rect x="149.9" y="614.6" width="13.6" height="13.6"/><rect x="151.7" y="614.6" width="13.6" height="13.6"/><rect x="153.6" y="614.6" width="13.6" height="13.6"/><rect x="155.6" y="614.6" width="13.6" height="13.6"/><rect x="157.5" y="614.6" width="13.6" height="13.6"/><rect x="160.1" y="614.6" width="13.6" height="13.6"/><rect x="162" y="614.6" width="13.6" height="13.6"/><rect x="164.2" y="614.6" width="13.6" height="13.6"/><rect x="165.9" y="614.6" width="13.6" height="13.6"/><rect x="169.2" y="614.6" width="13.6" height="13.6"/><rect x="171.3" y="614.6" width="13.6" height="13.6"/><rect x="173.6" y="614.6" width="13.6" height="13.6"/><rect x="196.6" y="542" width="13.6" height="13.6"/><rect x="198" y="542" width="13.6" height="13.6"/><rect x="200.6" y="542" width="13.6" height="13.6"/><rect x="202.7" y="542" width="13.6" height="13.6"/><rect x="204.3" y="542" width="13.6" height="13.6"/><rect x="205.6" y="542" width="13.6" height="13.6"/><rect x="207.1" y="542" width="13.6" height="13.6"/><rect x="209.2" y="542" width="13.6" height="13.6"/><rect x="211.4" y="542" width="13.6" height="13.6"/><rect x="212.7" y="542" width="13.6" height="13.6"/><rect x="213.8" y="542" width="13.6" height="13.6"/><rect x="215.8" y="542" width="13.6" height="13.6"/><rect x="217.8" y="542" width="13.6" height="13.6"/><rect x="219.5" y="542" width="13.6" height="13.6"/><rect x="221" y="542" width="13.6" height="13.6"/><rect x="223" y="542" width="13.6" height="13.6"/><rect x="224.1" y="542" width="13.6" height="13.6"/><rect x="225.7" y="542" width="13.6" height="13.6"/><rect x="227.5" y="542" width="13.6" height="13.6"/><rect x="230.1" y="542" width="13.6" height="13.6"/><rect x="232.3" y="542" width="13.6" height="13.6"/><rect x="234.8" y="542" width="13.6" height="13.6"/><rect x="103.4" y="625.4" width="13.6" height="13.6"/><rect x="107.3" y="625.4" width="13.6" height="13.6"/><rect x="110.8" y="625.4" width="13.6" height="13.6"/><rect x="113.2" y="625.4" width="13.6" height="13.6"/><rect x="116.7" y="625.4" width="13.6" height="13.6"/><rect x="121.7" y="625.4" width="13.6" height="13.6"/><rect x="125.2" y="625.4" width="13.6" height="13.6"/><rect x="128.2" y="625.4" width="13.6" height="13.6"/><rect x="130.7" y="625.4" width="13.6" height="13.6"/><rect x="135.1" y="625.4" width="13.6" height="13.6"/><rect x="139.4" y="625.4" width="13.6" height="13.6"/><rect x="142.9" y="625.4" width="13.6" height="13.6"/><rect x="147" y="625.4" width="13.6" height="13.6"/><rect x="150.6" y="625.4" width="13.6" height="13.6"/><rect x="153.3" y="625.4" width="13.6" height="13.6"/><rect x="158.3" y="625.4" width="13.6" height="13.6"/><rect x="161.4" y="625.4" width="13.6" height="13.6"/><rect x="165.6" y="625.4" width="13.6" height="13.6"/><rect x="170.4" y="625.4" width="13.6" height="13.6"/><rect x="174.8" y="625.4" width="13.6" height="13.6"/><rect x="177.7" y="625.4" width="13.6" height="13.6"/><rect x="181.7" y="625.4" width="13.6" height="13.6"/><rect x="184" y="625.4" width="13.6" height="13.6"/><rect x="88.6" y="648.2" width="13.6" height="13.6"/><rect x="93.4" y="648.2" width="13.6" height="13.6"/><rect x="96.1" y="648.2" width="13.6" height="13.6"/><rect x="100.8" y="648.2" width="13.6" height="13.6"/><rect x="103.5" y="648.2" width="13.6" height="13.6"/><rect x="106.9" y="648.2" width="13.6" height="13.6"/><rect x="87.5" y="654.2" width="13.6" height="13.6"/><rect x="89.4" y="654.2" width="13.6" height="13.6"/><rect x="96.3" y="635" width="13.6" height="13.6"/><rect x="97.5" y="635" width="13.6" height="13.6"/><rect x="98.7" y="635" width="13.6" height="13.6"/><rect x="101" y="635" width="13.6" height="13.6"/><rect x="102.3" y="635" width="13.6" height="13.6"/><rect x="103.8" y="635" width="13.6" height="13.6"/><rect x="105.5" y="635" width="13.6" height="13.6"/><rect x="108" y="635" width="13.6" height="13.6"/><rect x="109.2" y="635" width="13.6" height="13.6"/><rect x="111" y="635" width="13.6" height="13.6"/><rect x="113" y="635" width="13.6" height="13.6"/><rect x="115.5" y="635" width="13.6" height="13.6"/><rect x="117.9" y="635" width="13.6" height="13.6"/><rect x="120.4" y="635" width="13.6" height="13.6"/><rect x="121.9" y="635" width="13.6" height="13.6"/><rect x="123.7" y="635" width="13.6" height="13.6"/><rect x="125.3" y="635" width="13.6" height="13.6"/><rect x="127.8" y="635" width="13.6" height="13.6"/><rect x="130.5" y="635" width="13.6" height="13.6"/><rect x="131.8" y="635" width="13.6" height="13.6"/><rect x="133.2" y="635" width="13.6" height="13.6"/><rect x="134.6" y="635" width="13.6" height="13.6"/><rect x="136.1" y="635" width="13.6" height="13.6"/><rect x="137.9" y="635" width="13.6" height="13.6"/><rect x="140" y="635" width="13.6" height="13.6"/><rect x="141.5" y="635" width="13.6" height="13.6"/><rect x="142.6" y="635" width="13.6" height="13.6"/><rect x="144.3" y="635" width="13.6" height="13.6"/><rect x="146" y="635" width="13.6" height="13.6"/><rect x="148" y="635" width="13.6" height="13.6"/><rect x="106.5" y="617.6" width="13.6" height="13.6"/><rect x="110.3" y="617.6" width="13.6" height="13.6"/><rect x="113.2" y="617.6" width="13.6" height="13.6"/><rect x="116.5" y="617.6" width="13.6" height="13.6"/><rect x="120.2" y="617.6" width="13.6" height="13.6"/><rect x="122.1" y="617.6" width="13.6" height="13.6"/><rect x="125.5" y="617.6" width="13.6" height="13.6"/><rect x="129.4" y="617.6" width="13.6" height="13.6"/><rect x="133.1" y="617.6" width="13.6" height="13.6"/><rect x="136.7" y="617.6" width="13.6" height="13.6"/><rect x="139.5" y="617.6" width="13.6" height="13.6"/><rect x="141.7" y="617.6" width="13.6" height="13.6"/><rect x="145.3" y="617.6" width="13.6" height="13.6"/><rect x="147.9" y="617.6" width="13.6" height="13.6"/><rect x="151.6" y="617.6" width="13.6" height="13.6"/><rect x="155.7" y="617.6" width="13.6" height="13.6"/><rect x="158.4" y="617.6" width="13.6" height="13.6"/><rect x="161.1" y="617.6" width="13.6" height="13.6"/><rect x="165.1" y="617.6" width="13.6" height="13.6"/><rect x="143.2" y="623" width="13.6" height="13.6"/><rect x="145.1" y="623" width="13.6" height="13.6"/><rect x="147" y="623" width="13.6" height="13.6"/><rect x="148.9" y="623" width="13.6" height="13.6"/><rect x="150.8" y="623" width="13.6" height="13.6"/><rect x="152.7" y="623" width="13.6" height="13.6"/><rect x="154.6" y="623" width="13.6" height="13.6"/><rect x="156.5" y="623" width="13.6" height="13.6"/><rect x="158.4" y="623" width="13.6" height="13.6"/><rect x="160.3" y="623" width="13.6" height="13.6"/><rect x="162.2" y="623" width="13.6" height="13.6"/><rect x="164.1" y="623" width="13.6" height="13.6"/><rect x="166" y="623" width="13.6" height="13.6"/><rect x="167.9" y="623" width="13.6" height="13.6"/><rect x="169.8" y="623" width="13.6" height="13.6"/><rect x="171.7" y="623" width="13.6" height="13.6"/><rect x="173.6" y="623" width="13.6" height="13.6"/><rect x="175.5" y="623" width="13.6" height="13.6"/><rect x="177.4" y="623" width="13.6" height="13.6"/><rect x="179.3" y="623" width="13.6" height="13.6"/><rect x="181.2" y="623" width="13.6" height="13.6"/><rect x="183.1" y="623" width="13.6" height="13.6"/><rect x="185" y="623" width="13.6" height="13.6"/><rect x="186.9" y="623" width="13.6" height="13.6"/><rect x="188.8" y="623" width="13.6" height="13.6"/><rect x="190.7" y="623" width="13.6" height="13.6"/><rect x="192.6" y="623" width="13.6" height="13.6"/><rect x="194.5" y="623" width="13.6" height="13.6"/><rect x="196.4" y="623" width="13.6" height="13.6"/><rect x="198.3" y="623" width="13.6" height="13.6"/><rect x="200.2" y="623" width="13.6" height="13.6"/><rect x="202.1" y="623" width="13.6" height="13.6"/><rect x="204" y="623" width="13.6" height="13.6"/><rect x="205.9" y="623" width="13.6" height="13.6"/><rect x="207.8" y="623" width="13.6" height="13.6"/><rect x="209.7" y="623" width="13.6" height="13.6"/><rect x="211.6" y="623" width="13.6" height="13.6"/><rect x="213.5" y="623" width="13.6" height="13.6"/><rect x="215.4" y="623" width="13.6" height="13.6"/><rect x="217.3" y="623" width="13.6" height="13.6"/><rect x="219.2" y="623" width="13.6" height="13.6"/><rect x="221.1" y="623" width="13.6" height="13.6"/><rect x="223" y="623" width="13.6" height="13.6"/><rect x="224.9" y="623" width="13.6" height="13.6"/><rect x="226.8" y="623" width="13.6" height="13.6"/><rect x="113.2" y="629.8" width="13.6" height="13.6"/><rect x="116.3" y="629.8" width="13.6" height="13.6"/><rect x="119.4" y="629.8" width="13.6" height="13.6"/><rect x="122.5" y="629.8" width="13.6" height="13.6"/><rect x="125.6" y="629.8" width="13.6" height="13.6"/><rect x="128.7" y="629.8" width="13.6" height="13.6"/><rect x="131.8" y="629.8" width="13.6" height="13.6"/><rect x="134.9" y="629.8" width="13.6" height="13.6"/><rect x="138" y="629.8" width="13.6" height="13.6"/><rect x="141.1" y="629.8" width="13.6" height="13.6"/><rect x="144.2" y="629.8" width="13.6" height="13.6"/><rect x="147.3" y="629.8" width="13.6" height="13.6"/><rect x="150.4" y="629.8" width="13.6" height="13.6"/><rect x="153.5" y="629.8" width="13.6" height="13.6"/><rect x="156.6" y="629.8" width="13.6" height="13.6"/><rect x="159.7" y="629.8" width="13.6" height="13.6"/><rect x="162.8" y="629.8" width="13.6" height="13.6"/><rect x="165.9" y="629.8" width="13.6" height="13.6"/><rect x="169" y="629.8" width="13.6" height="13.6"/><rect x="172.1" y="629.8" width="13.6" height="13.6"/><rect x="175.2" y="629.8" width="13.6" height="13.6"/><rect x="178.3" y="629.8" width="13.6" height="13.6"/><rect x="93.2" y="636.5" width="13.6" height="13.6"/><rect x="96.6" y="636.5" width="13.6" height="13.6"/><rect x="100" y="636.5" width="13.6" height="13.6"/><rect x="103.4" y="636.5" width="13.6" height="13.6"/><rect x="106.8" y="636.5" width="13.6" height="13.6"/><rect x="110.2" y="636.5" width="13.6" height="13.6"/><rect x="113.6" y="636.5" width="13.6" height="13.6"/><rect x="117" y="636.5" width="13.6" height="13.6"/><rect x="120.4" y="636.5" width="13.6" height="13.6"/><rect x="123.8" y="636.5" width="13.6" height="13.6"/><rect x="127.2" y="636.5" width="13.6" height="13.6"/><rect x="130.6" y="636.5" width="13.6" height="13.6"/><rect x="134" y="636.5" width="13.6" height="13.6"/><rect x="137.4" y="636.5" width="13.6" height="13.6"/><rect x="140.8" y="636.5" width="13.6" height="13.6"/><rect x="144.2" y="636.5" width="13.6" height="13.6"/><rect x="147.6" y="636.5" width="13.6" height="13.6"/><rect x="151" y="636.5" width="13.6" height="13.6"/><rect x="154.4" y="636.5" width="13.6" height="13.6"/><rect x="89.2" y="643.9" width="13.6" height="13.6"/><rect x="93" y="643.9" width="13.6" height="13.6"/><rect x="96.8" y="643.9" width="13.6" height="13.6"/><rect x="100.6" y="643.9" width="13.6" height="13.6"/><rect x="104.4" y="643.9" width="13.6" height="13.6"/><rect x="108.2" y="643.9" width="13.6" height="13.6"/><rect x="112" y="643.9" width="13.6" height="13.6"/><rect x="115.8" y="643.9" width="13.6" height="13.6"/><rect x="119.6" y="643.9" width="13.6" height="13.6"/><rect x="123.4" y="643.9" width="13.6" height="13.6"/><rect x="127.2" y="643.9" width="13.6" height="13.6"/><rect x="131" y="643.9" width="13.6" height="13.6"/><rect x="134.8" y="643.9" width="13.6" height="13.6"/><rect x="138.6" y="643.9" width="13.6" height="13.6"/><rect x="87.2" y="647.6" width="13.6" height="13.6"/><rect x="91.3" y="647.6" width="13.6" height="13.6"/><rect x="95.4" y="647.6" width="13.6" height="13.6"/><rect x="99.5" y="647.6" width="13.6" height="13.6"/><rect x="103.6" y="647.6" width="13.6" height="13.6"/><rect x="107.7" y="647.6" width="13.6" height="13.6"/><rect x="111.8" y="647.6" width="13.6" height="13.6"/><rect x="115.9" y="647.6" width="13.6" height="13.6"/><rect x="120" y="647.6" width="13.6" height="13.6"/><rect x="124.1" y="647.6" width="13.6" height="13.6"/><rect x="94.6" y="634.5" width="13.6" height="13.6"/><rect x="102.6" y="627.1" width="13.6" height="13.6"/><rect x="104.6" y="620.4" width="13.6" height="13.6"/><rect x="108.6" y="613" width="13.6" height="13.6"/><rect x="118.7" y="605.7" width="13.6" height="13.6"/><rect x="123.4" y="591.6" width="13.6" height="13.6"/><rect x="140.8" y="584.2" width="13.6" height="13.6"/><rect x="152.1" y="577.9" width="13.6" height="13.6"/><rect x="165.2" y="570.2" width="13.6" height="13.6"/><rect x="179.2" y="561.2" width="13.6" height="13.6"/><rect x="186.2" y="552.2" width="13.6" height="13.6"/><rect x="194.7" y="543.8" width="13.6" height="13.6"/><rect x="221.6" y="528.3" width="13.6" height="13.6"/><rect x="224.1" y="528.3" width="13.6" height="13.6"/><rect x="226.6" y="528.3" width="13.6" height="13.6"/><rect x="229.1" y="528.3" width="13.6" height="13.6"/><rect x="231.6" y="528.3" width="13.6" height="13.6"/><rect x="234.1" y="528.3" width="13.6" height="13.6"/><rect x="236.6" y="528.3" width="13.6" height="13.6"/><rect x="239.1" y="528.3" width="13.6" height="13.6"/><rect x="241.6" y="528.3" width="13.6" height="13.6"/><rect x="244.1" y="528.3" width="13.6" height="13.6"/><rect x="246.6" y="528.3" width="13.6" height="13.6"/><rect x="249.1" y="528.3" width="13.6" height="13.6"/><rect x="251.6" y="528.3" width="13.6" height="13.6"/><rect x="254.1" y="528.3" width="13.6" height="13.6"/><rect x="256.6" y="528.3" width="13.6" height="13.6"/><rect x="259.1" y="528.3" width="13.6" height="13.6"/><rect x="261.6" y="528.3" width="13.6" height="13.6"/><rect x="264.1" y="528.3" width="13.6" height="13.6"/><rect x="266.6" y="528.3" width="13.6" height="13.6"/><rect x="246.7" y="519.5" width="13.6" height="13.6"/><rect x="250.4" y="519.5" width="13.6" height="13.6"/><rect x="254.1" y="519.5" width="13.6" height="13.6"/><rect x="257.8" y="519.5" width="13.6" height="13.6"/><rect x="261.5" y="519.5" width="13.6" height="13.6"/><rect x="265.2" y="519.5" width="13.6" height="13.6"/><rect x="254.7" y="514.9" width="13.6" height="13.6"/><rect x="258.4" y="514.9" width="13.6" height="13.6"/><rect x="262.1" y="514.9" width="13.6" height="13.6"/><rect x="265.8" y="514.9" width="13.6" height="13.6"/><rect x="269.5" y="514.9" width="13.6" height="13.6"/><rect x="273.2" y="514.9" width="13.6" height="13.6"/><rect x="276.9" y="514.9" width="13.6" height="13.6"/><rect x="262.7" y="509.5" width="13.6" height="13.6"/><rect x="266.4" y="509.5" width="13.6" height="13.6"/><rect x="270.1" y="509.5" width="13.6" height="13.6"/><rect x="273.8" y="509.5" width="13.6" height="13.6"/><rect x="277.5" y="509.5" width="13.6" height="13.6"/><rect x="281.2" y="509.5" width="13.6" height="13.6"/><rect x="284.9" y="509.5" width="13.6" height="13.6"/><rect x="270.2" y="504.1" width="13.6" height="13.6"/><rect x="273.9" y="504.1" width="13.6" height="13.6"/><rect x="277.6" y="504.1" width="13.6" height="13.6"/><rect x="281.3" y="504.1" width="13.6" height="13.6"/><rect x="285" y="504.1" width="13.6" height="13.6"/><rect x="288.7" y="504.1" width="13.6" height="13.6"/><rect x="292.4" y="504.1" width="13.6" height="13.6"/><rect x="296.1" y="504.1" width="13.6" height="13.6"/><rect x="299.8" y="504.1" width="13.6" height="13.6"/><rect x="303.5" y="504.1" width="13.6" height="13.6"/><rect x="307.2" y="504.1" width="13.6" height="13.6"/><rect x="310.9" y="504.1" width="13.6" height="13.6"/><rect x="314.6" y="504.1" width="13.6" height="13.6"/><rect x="318.3" y="504.1" width="13.6" height="13.6"/><rect x="322" y="504.1" width="13.6" height="13.6"/><rect x="202.7" y="523.2" width="13.6" height="13.6"/><rect x="282.6" y="525.1" width="13.6" height="13.6"/><rect x="299.5" y="525.1" width="13.6" height="13.6"/><rect x="315.1" y="525.1" width="13.6" height="13.6"/><rect x="327.6" y="528.5" width="13.6" height="13.6"/><rect x="335.3" y="528.5" width="13.6" height="13.6"/><rect x="341.3" y="528.5" width="13.6" height="13.6"/><rect x="345.3" y="528.5" width="13.6" height="13.6"/><rect x="350" y="528.5" width="13.6" height="13.6"/><rect x="353.4" y="528.5" width="13.6" height="13.6"/><rect x="232.8" y="543.5" width="13.6" height="13.6"/><rect x="234.7" y="543.5" width="13.6" height="13.6"/><rect x="246.2" y="543.5" width="13.6" height="13.6"/><rect x="247.7" y="543.5" width="13.6" height="13.6"/><rect x="245.9" y="546.6" width="13.6" height="13.6"/><rect x="261.2" y="546.6" width="13.6" height="13.6"/><rect x="275.6" y="546.6" width="13.6" height="13.6"/><rect x="292.7" y="546.6" width="13.6" height="13.6"/><rect x="302" y="546.6" width="13.6" height="13.6"/><rect x="309.5" y="544.3" width="13.6" height="13.6"/><rect x="314.5" y="544.3" width="13.6" height="13.6"/><rect x="317.9" y="544.3" width="13.6" height="13.6"/><rect x="323.2" y="544.3" width="13.6" height="13.6"/><rect x="234" y="561.6" width="13.6" height="13.6"/><rect x="250.6" y="561.6" width="13.6" height="13.6"/><rect x="261.7" y="561.6" width="13.6" height="13.6"/><rect x="266.9" y="561.6" width="13.6" height="13.6"/><rect x="277" y="561.6" width="13.6" height="13.6"/><rect x="280.3" y="561.6" width="13.6" height="13.6"/><rect x="284.4" y="561.6" width="13.6" height="13.6"/><rect x="290" y="561.6" width="13.6" height="13.6"/><rect x="221.2" y="577" width="13.6" height="13.6"/><rect x="240.7" y="577" width="13.6" height="13.6"/><rect x="248.6" y="577" width="13.6" height="13.6"/><rect x="251.2" y="577" width="13.6" height="13.6"/><rect x="255.4" y="577" width="13.6" height="13.6"/><rect x="212.1" y="599.2" width="13.6" height="13.6"/><rect x="218.2" y="599.2" width="13.6" height="13.6"/><rect x="219.4" y="599.2" width="13.6" height="13.6"/>
</g>
</g>
<path d="M91.2 674.1L719.1 26.1" stroke="#000" stroke-width="2.4" fill="none"/>
<rect x="91.2" y="9.5" width="644.0" height="664.6" fill="none" stroke="#000" stroke-width="2.2"/>
<path d="M198.53 674.1v-7.4M198.53 9.5v7.4M91.2 563.33h7.4M735.2 563.33h-7.4M305.87 674.1v-7.4M305.87 9.5v7.4M91.2 452.57h7.4M735.2 452.57h-7.4M413.20 674.1v-7.4M413.20 9.5v7.4M91.2 341.80h7.4M735.2 341.80h-7.4M520.53 674.1v-7.4M520.53 9.5v7.4M91.2 231.03h7.4M735.2 231.03h-7.4M627.87 674.1v-7.4M627.87 9.5v7.4M91.2 120.27h7.4M735.2 120.27h-7.4" stroke="#000" stroke-width="1.05" fill="none"/>
<text class="t" font-size="25.2" transform="translate(91.2 700.8) scale(1.0 1.04)" text-anchor="middle">0.00</text>
<text class="t" font-size="25.2" transform="translate(83.4 682.6) scale(1.0 1.04)" text-anchor="end">0.00</text>
<text class="t" font-size="25.2" transform="translate(198.53 700.8) scale(1.0 1.04)" text-anchor="middle">0.05</text>
<text class="t" font-size="25.2" transform="translate(83.4 571.83) scale(1.0 1.04)" text-anchor="end">0.05</text>
<text class="t" font-size="25.2" transform="translate(305.87 700.8) scale(1.0 1.04)" text-anchor="middle">0.10</text>
<text class="t" font-size="25.2" transform="translate(83.4 461.07) scale(1.0 1.04)" text-anchor="end">0.10</text>
<text class="t" font-size="25.2" transform="translate(413.2 700.8) scale(1.0 1.04)" text-anchor="middle">0.15</text>
<text class="t" font-size="25.2" transform="translate(83.4 350.3) scale(1.0 1.04)" text-anchor="end">0.15</text>
<text class="t" font-size="25.2" transform="translate(520.53 700.8) scale(1.0 1.04)" text-anchor="middle">0.20</text>
<text class="t" font-size="25.2" transform="translate(83.4 239.53) scale(1.0 1.04)" text-anchor="end">0.20</text>
<text class="t" font-size="25.2" transform="translate(627.87 700.8) scale(1.0 1.04)" text-anchor="middle">0.25</text>
<text class="t" font-size="25.2" transform="translate(83.4 128.77) scale(1.0 1.04)" text-anchor="end">0.25</text>
<text class="t" font-size="25.2" transform="translate(735.2 700.8) scale(1.0 1.04)" text-anchor="middle">0.30</text>
<text class="t" font-size="25.2" transform="translate(83.4 18) scale(1.0 1.04)" text-anchor="end">0.30</text>
<rect x="102" y="20.2" width="216.3" height="99.8" fill="#fff" stroke="#000" stroke-width="2"/>
<path fill="#f00" stroke="#000" stroke-width="1.8" d="M116.6 34.6l6 12h-12zM131.7 32.2l6 12h-12zM146.7 35.4l6 12h-12z"/>
<g fill="#00f" fill-opacity="0.75" stroke="#000" stroke-opacity="0.75" stroke-width="1.9">
<circle cx="116.0" cy="70.7" r="6.8"/>
<circle cx="131.4" cy="68.4" r="6.8"/>
<circle cx="146.7" cy="71.5" r="6.8"/>
</g>
<g fill="#800080" fill-opacity="0.75" stroke="#000" stroke-opacity="0.75" stroke-width="1.9">
<rect x="109.2" y="95.4" width="13.6" height="13.6"/>
<rect x="124.6" y="92.8" width="13.6" height="13.6"/>
<rect x="139.9" y="96.0" width="13.6" height="13.6"/>
</g>
<text class="l" font-size="20.4" transform="translate(170.4 45.1)" textLength="123.6" lengthAdjust="spacingAndGlyphs" stroke-width="0.73">Training Set</text>
<text class="l" font-size="20.4" transform="translate(170.4 75.8)" textLength="79.6" lengthAdjust="spacingAndGlyphs" stroke-width="0.73">Test Set</text>
<text class="l" font-size="20.4" transform="translate(170.4 107)" textLength="139.0" lengthAdjust="spacingAndGlyphs" stroke-width="0.73">Blind Test Set</text>
<text class="l" font-size="23.9" transform="translate(272.8 736)" textLength="153.4" lengthAdjust="spacingAndGlyphs" stroke-width="0.86">True Current</text>
<g transform="translate(273.2 736) rotate(0)">
<text class="t" x="161.7" y="0.6" font-size="25.5">(</text>
<text class="t" font-size="25.5" font-style="italic" transform="translate(171.8 0) scale(1.1 1)">I</text>
<text class="t" font-size="17.6" font-style="italic" transform="translate(181.7 5) scale(1.14 1)" textLength="34.7" lengthAdjust="spacing">C/W</text>
<text class="t" font-size="17.6" font-style="italic" transform="translate(223.9 -10.7) scale(1.14 1)" textLength="39.4" lengthAdjust="spacing">FEM</text>
<text class="t" x="271.2" y="0.6" font-size="25.5">)</text>
</g>
<text class="l" font-size="23.9" transform="translate(23.6 522.6) rotate(-90)" textLength="204.6" lengthAdjust="spacingAndGlyphs" stroke-width="0.86">Predicted Current</text>
<g transform="translate(23.6 522.4) rotate(-90)">
<text class="t" x="213.3" y="0.6" font-size="25.5">(</text>
<text class="t" font-size="25.5" font-style="italic" transform="translate(223.4 0) scale(1.1 1)">I</text>
<text class="t" font-size="17.6" font-style="italic" transform="translate(233.3 5) scale(1.14 1)" textLength="34.7" lengthAdjust="spacing">C/W</text>
<text class="t" font-size="17.6" font-style="italic" transform="translate(275.5 -10.7) scale(1.14 1)" textLength="61.1" lengthAdjust="spacing">AdaBoost</text>
<text class="t" x="351.5" y="0.6" font-size="25.5">)</text>
</g>
<text class="t" font-size="50" transform="translate(362.8 781.8) scale(0.93 1.1)">(</text>
<text class="t" font-size="46.5" transform="translate(392.8 780.6) scale(1.22 1.0)" text-anchor="middle">a</text>
<text class="t" font-size="50" transform="translate(406.6 781.8) scale(0.93 1.1)">)</text>
</g>
<g id="pb">
<clipPath id="cb"><rect x="893.5" y="14.9" width="902.8" height="664.35"/></clipPath>
<g clip-path="url(#cb)" fill="none">
<path d="M1259 678C1258.33 677.92 1258.58 678.21 1255 677.5C1251.42 676.79 1244.58 675.42 1237.5 673.75C1230.42 672.08 1220 669.17 1212.5 667.5C1205 665.83 1198.75 665.42 1192.5 663.75C1186.25 662.08 1180 659.79 1175 657.5C1170 655.21 1166.67 653.33 1162.5 650C1158.33 646.67 1154.58 642.08 1150 637.5C1145.42 632.92 1138.33 625.6 1135 622.5C1131.67 619.4 1132.77 620.38 1130 618.9C1127.23 617.42 1121.6 615.25 1118.4 613.6C1115.2 611.95 1113.33 610.78 1110.8 609C1108.27 607.22 1105.73 605.43 1103.2 602.9C1100.67 600.37 1098.13 596.97 1095.6 593.8C1093.07 590.63 1090.55 586.82 1088 583.9C1085.45 580.98 1082.85 578.72 1080.3 576.3C1077.75 573.88 1075.23 571.57 1072.7 569.4C1070.17 567.23 1067.63 565.2 1065.1 563.3C1062.57 561.4 1060.03 559.77 1057.5 558C1054.97 556.23 1052.43 554.22 1049.9 552.7C1047.37 551.18 1044.83 549.78 1042.3 548.9C1039.77 548.02 1037.25 547.4 1034.7 547.4C1032.15 547.4 1029.28 548.48 1027 548.9C1024.72 549.32 1023.28 550.03 1021 549.9C1018.72 549.77 1015.33 549.17 1013.3 548.1C1011.27 547.03 1010.32 545.78 1008.8 543.5C1007.28 541.22 1005.98 538.45 1004.2 534.4C1002.42 530.35 1000.13 525.28 998.1 519.2C996.07 513.12 994.03 504.75 992 497.9C989.97 491.05 987.93 484.7 985.9 478.1C983.87 471.5 981.7 464.65 979.8 458.3C977.9 451.95 976.07 445.13 974.5 440C972.93 434.87 971.77 432.93 970.4 427.5C969.03 422.07 967.53 414.32 966.3 407.4C965.07 400.48 964 393.15 963 386C962 378.85 961.08 371.65 960.3 364.5C959.52 357.35 959.08 350.23 958.3 343.1C957.52 335.97 956.6 328.83 955.6 321.7C954.6 314.57 953.52 307.45 952.3 300.3C951.08 293.15 949.52 284.1 948.3 278.8C947.08 273.5 946.12 270.93 945 268.5C943.88 266.07 942.77 264.03 941.6 264.2C940.43 264.37 939.12 266.17 938 269.5C936.88 272.83 935.87 277.95 934.9 284.2C933.93 290.45 933.1 299.42 932.2 307C931.3 314.58 930.28 322.33 929.5 329.7C928.72 337.07 928.17 344.28 927.5 351.2C926.83 358.12 926.17 364.52 925.5 371.2C924.83 377.88 924.17 384.37 923.5 391.3C922.83 398.23 922.17 405.87 921.5 412.8C920.83 419.73 920.05 426.85 919.5 432.9C918.95 438.95 918.8 442.83 918.2 449.1C917.6 455.37 916.8 462.37 915.9 470.5C915 478.63 913.68 490.8 912.8 497.9C911.92 505 911.48 507.52 910.6 513.1C909.72 518.68 908.65 525.32 907.5 531.4C906.35 537.48 905.1 542 903.7 549.6C902.3 557.2 900.5 568.23 899.1 577C897.7 585.77 895.93 598 895.3 602.2" stroke="#9370db" stroke-width="3" stroke-dasharray="10.7 10"/>
<path d="M913.6 500.2C913.98 495.25 915.27 480.53 915.9 470.5C916.53 460.47 916.7 454.42 917.4 440C918.1 425.58 918.97 405.73 920.1 384C921.23 362.27 922.8 333.6 924.2 309.6C925.6 285.6 927.55 256.1 928.5 240C929.45 223.9 929.43 221 929.9 213C930.37 205 930.83 199 931.3 192C931.77 185 932.23 178 932.7 171C933.17 164 933.63 157 934.1 150C934.57 143 935.03 136 935.5 129C935.97 122 936.32 115 936.9 108C937.48 101 938.3 94 939 87C939.7 80 940.28 73 941.1 66C941.92 59 943.03 50.42 943.9 45C944.77 39.58 945.53 36.27 946.3 33.5C947.07 30.73 947.82 28.82 948.5 28.4C949.18 27.98 949.88 29.65 950.4 31C950.92 32.35 951.05 33 951.6 36.5C952.15 40 953.12 45.92 953.7 52C954.28 58.08 954.63 66 955.1 73C955.57 80 956.03 85.83 956.5 94C956.97 102.17 957.5 112.67 957.9 122C958.3 131.33 958.55 140.67 958.9 150C959.25 159.33 959.58 167.5 960 178C960.42 188.5 960.97 202.67 961.4 213C961.83 223.33 961.88 223.9 962.6 240C963.32 256.1 964.63 285.6 965.7 309.6C966.77 333.6 968.03 362.27 969 384C969.97 405.73 970.83 426.87 971.5 440C972.17 453.13 972.5 455.18 973 462.8C973.5 470.42 973.87 478.08 974.5 485.7C975.13 493.32 976.03 501.9 976.8 508.5C977.57 515.1 978.33 520.47 979.1 525.3C979.87 530.13 980.52 533.95 981.4 537.5C982.28 541.05 983.13 543.82 984.4 546.6C985.67 549.38 986.97 551.28 989 554.2C991.03 557.12 994.07 561.05 996.6 564.1C999.13 567.15 1001.67 570.22 1004.2 572.5C1006.73 574.78 1009.52 575.77 1011.8 577.8C1014.08 579.83 1015.87 582.17 1017.9 584.7C1019.93 587.23 1022.22 591.1 1024 593C1025.78 594.9 1027.08 596.1 1028.6 596.1C1030.12 596.1 1031.58 594.9 1033.1 593C1034.62 591.1 1036.17 587.62 1037.7 584.7C1039.23 581.78 1040.78 578.05 1042.3 575.5C1043.82 572.95 1045.4 570.72 1046.8 569.4C1048.2 568.08 1049.3 567.47 1050.7 567.6C1052.1 567.73 1053.55 568.88 1055.2 570.2C1056.85 571.52 1059 574.3 1060.6 575.5C1062.2 576.7 1063.42 577.52 1064.8 577.4C1066.18 577.28 1067.58 576.63 1068.9 574.8C1070.22 572.97 1071.43 569.83 1072.7 566.4C1073.97 562.97 1075.23 557.75 1076.5 554.2C1077.77 550.65 1078.9 547.13 1080.3 545.1C1081.7 543.07 1083.5 542 1084.9 542C1086.3 542 1087.43 542.82 1088.7 545.1C1089.97 547.38 1091.23 551.13 1092.5 555.7C1093.77 560.27 1095.03 566.65 1096.3 572.5C1097.57 578.35 1098.95 585.47 1100.1 590.8C1101.25 596.13 1102.05 599.93 1103.2 604.5C1104.35 609.07 1105.6 614.15 1107 618.2C1108.4 622.25 1110.08 625.55 1111.6 628.8C1113.12 632.05 1115.35 636.22 1116.1 637.7" stroke="#800080" stroke-width="3" stroke-linejoin="round"/>
</g>
<rect x="893.5" y="14.9" width="902.8" height="664.35" fill="none" stroke="#000" stroke-width="2.7"/>
<path d="M1043.97 679.25v-10.2M1043.97 14.9v10.2M1194.43 679.25v-10.2M1194.43 14.9v10.2M1344.90 679.25v-10.2M1344.90 14.9v10.2M1495.37 679.25v-10.2M1495.37 14.9v10.2M1645.83 679.25v-10.2M1645.83 14.9v10.2M893.5 605.43h10.2M1796.3 605.43h-10.2M893.5 531.62h10.2M1796.3 531.62h-10.2M893.5 457.80h10.2M1796.3 457.80h-10.2M893.5 383.98h10.2M1796.3 383.98h-10.2M893.5 310.17h10.2M1796.3 310.17h-10.2M893.5 236.35h10.2M1796.3 236.35h-10.2M893.5 162.53h10.2M1796.3 162.53h-10.2M893.5 88.72h10.2M1796.3 88.72h-10.2" stroke="#000" stroke-width="2.5" fill="none"/>
<text class="t" font-size="28.9" transform="translate(893.5 708.7) scale(1.0 1.07)" text-anchor="middle">0.00</text>
<text class="t" font-size="28.9" transform="translate(1043.97 708.7) scale(1.0 1.07)" text-anchor="middle">0.05</text>
<text class="t" font-size="28.9" transform="translate(1194.43 708.7) scale(1.0 1.07)" text-anchor="middle">0.10</text>
<text class="t" font-size="28.9" transform="translate(1344.9 708.7) scale(1.0 1.07)" text-anchor="middle">0.15</text>
<text class="t" font-size="28.9" transform="translate(1495.37 708.7) scale(1.0 1.07)" text-anchor="middle">0.20</text>
<text class="t" font-size="28.9" transform="translate(1645.83 708.7) scale(1.0 1.07)" text-anchor="middle">0.25</text>
<text class="t" font-size="28.9" transform="translate(1796.3 708.7) scale(1.0 1.07)" text-anchor="middle">0.30</text>
<text class="t" font-size="28.9" transform="translate(883.8 687.85) scale(1.0 1.07)" text-anchor="end">0</text>
<text class="t" font-size="28.9" transform="translate(883.8 614.03) scale(1.0 1.07)" text-anchor="end">5</text>
<text class="t" font-size="28.9" transform="translate(883.8 540.22) scale(1.0 1.07)" text-anchor="end">10</text>
<text class="t" font-size="28.9" transform="translate(883.8 466.4) scale(1.0 1.07)" text-anchor="end">15</text>
<text class="t" font-size="28.9" transform="translate(883.8 392.58) scale(1.0 1.07)" text-anchor="end">20</text>
<text class="t" font-size="28.9" transform="translate(883.8 318.77) scale(1.0 1.07)" text-anchor="end">25</text>
<text class="t" font-size="28.9" transform="translate(883.8 244.95) scale(1.0 1.07)" text-anchor="end">30</text>
<text class="t" font-size="28.9" transform="translate(883.8 171.13) scale(1.0 1.07)" text-anchor="end">35</text>
<text class="t" font-size="28.9" transform="translate(883.8 97.32) scale(1.0 1.07)" text-anchor="end">40</text>
<text class="t" font-size="28.9" transform="translate(883.8 23.5) scale(1.0 1.07)" text-anchor="end">45</text>
<rect x="1195" y="29.5" width="586.8" height="92.2" fill="#fff" stroke="#000" stroke-width="2.2"/>
<path d="M1214.6 52.9h32.6" stroke="#9370db" stroke-width="3" stroke-dasharray="10.8 10.6"/>
<path d="M1213.8 95h43.4" stroke="#800080" stroke-width="3"/>
<text class="l" font-size="27.8" transform="translate(1287.6 62.8)" textLength="418.6" lengthAdjust="spacingAndGlyphs" stroke-width="1.00">Blind Test True Current Values</text>
<text class="l" font-size="27.8" transform="translate(1287.6 105.1)" textLength="481.4" lengthAdjust="spacingAndGlyphs" stroke-width="1.00">Blind Test Predicted Current Values</text>
<text class="l" font-size="30.4" transform="translate(1244.2 744.8)" textLength="115.0" lengthAdjust="spacingAndGlyphs" stroke-width="1.09">Current</text>
<text class="l" font-size="30.4" transform="translate(1368.6 744.8)" textLength="22.4" lengthAdjust="spacingAndGlyphs" stroke-width="1.09">(I</text>
<text class="l" font-size="20.6" transform="translate(1392 750.8)" textLength="42.6" lengthAdjust="spacingAndGlyphs" stroke-width="0.74">C/W</text>
<text class="l" font-size="30.4" transform="translate(1436.4 744.8)" textLength="10.0" lengthAdjust="spacingAndGlyphs" stroke-width="1.09">)</text>
<text class="l" font-size="30.4" transform="translate(844.4 487.2) rotate(-90)" textLength="281.2" lengthAdjust="spacingAndGlyphs" stroke-width="1.09">Probability Density</text>
<text class="t" font-size="50" transform="translate(1279.2 810) scale(0.93 1.1)">(</text>
<text class="t" font-size="49.6" transform="translate(1311.2 808.8) scale(1.1 1.0)" text-anchor="middle">b</text>
<text class="t" font-size="50" transform="translate(1326.1 810) scale(0.93 1.1)">)</text>
</g>
<g id="pc">
<clipPath id="cc"><rect x="454.4" y="861.4" width="828.0" height="655.00"/></clipPath>
<g clip-path="url(#cc)" fill="none">
<path d="M454.6 1516 L458 1497 L462.4 1478 L462.4 1464 L466 1452 L470.7 1426 L473 1426 L474.8 1412 L478 1391 L478 1376 L483.1 1376 L483.1 1362 L487.3 1335 L487.3 1325 L490 1310 L493 1282 L493 1256.6 L497.6 1248 L497.6 1240 L501.8 1231.8 L501.8 1219 L505.9 1211 L505.9 1203 L510 1192 L510 1184.1 L512.5 1174 L515.6 1155.3 L517.6 1137.7 L521.8 1137.7 L523.9 1122.2 L527 1122.2 L528 1095.3 L530.1 1085.9 L534.2 1078.7 L537.3 1066.3 L540.4 1060.1 L542.9 1059 L543.5 1041.4 L545.6 1026.9 L548.3 987.6 L553.9 987.6 L556 975.1 L559.5 950.7 L566.3 950.7 L567.3 945.7 L572.9 945.7 L574 940.3 L580.8 940.3 L583.5 925.4 L590.1 925.4 L591.2 920.2 L593.9 915.1 L596.8 909.9 L602.6 909.9 L603 904.7 L605.7 904.7 L605.7 899.1 L622.2 899.1 L622.2 893.3 L671.9 893.3 L673 888.1 L678.2 888.1 L679.2 883 L687.5 883 L688.5 877.8 L712.3 877.8 L713.4 872.6 L727.5 872.6 L728.75 867.5 L740 867.5 L740 863.2" stroke="#f00" stroke-width="2.6" stroke-linejoin="miter"/>
<path d="M454.6 1516C454.7 1515.22 454.58 1518.98 455.2 1511.3C455.82 1503.62 457.1 1481.98 458.3 1469.9C459.5 1457.82 461.02 1449.15 462.4 1438.8C463.78 1428.45 465.22 1417.12 466.6 1407.8C467.98 1398.48 469.5 1390.85 470.7 1382.9C471.9 1374.95 472.58 1368.03 473.8 1360.1C475.02 1352.17 476.78 1343.92 478 1335.3C479.22 1326.68 480.07 1317.03 481.1 1308.4C482.13 1299.77 483 1292.82 484.2 1283.5C485.4 1274.18 487.1 1261.47 488.3 1252.5C489.5 1243.53 490.18 1236.6 491.4 1229.7C492.62 1222.8 494.33 1216.87 495.6 1211.1C496.87 1205.33 497.75 1202.67 499 1195.1C500.25 1187.53 501.55 1175.78 503.1 1165.7C504.65 1155.62 506.57 1144.27 508.3 1134.6C510.03 1124.93 511.77 1115.28 513.5 1107.7C515.23 1100.12 517.15 1094.97 518.7 1089.1C520.25 1083.23 521.6 1078.72 522.8 1072.5C524 1066.28 524.68 1058.7 525.9 1051.8C527.12 1044.9 528.37 1038.35 530.1 1031.1C531.83 1023.85 534.23 1015.9 536.3 1008.3C538.37 1000.7 540.27 992.42 542.5 985.5C544.73 978.58 547.28 973.02 549.7 966.8C552.12 960.58 554.4 954.4 557 948.2C559.6 942 562.53 934.95 565.3 929.6C568.07 924.25 570.67 919.73 573.6 916.1C576.53 912.47 579.8 910.57 582.9 907.8C586 905.03 588.92 902.78 592.2 899.5C595.48 896.22 598.8 891.03 602.6 888.1C606.4 885.17 610.52 883.97 615 881.9C619.48 879.83 624.32 877.7 629.5 875.7C634.68 873.7 640.23 871.62 646.1 869.9C651.97 868.18 657.8 866.43 664.7 865.4C671.6 864.37 678.28 864.05 687.5 863.7C696.72 863.35 707.5 863.43 720 863.3C732.5 863.17 755.42 862.97 762.5 862.9" stroke="#00f" stroke-width="2.9" stroke-linejoin="round"/>
<path d="M454.6 1516C454.7 1515.57 454.23 1517.63 455.2 1513.4C456.17 1509.17 458.68 1499.58 460.4 1490.6C462.12 1481.62 463.95 1469.85 465.5 1459.5C467.05 1449.15 468.15 1437.82 469.7 1428.5C471.25 1419.18 473.42 1412.23 474.8 1403.6C476.18 1394.97 476.78 1385.67 478 1376.7C479.22 1367.73 480.73 1358.43 482.1 1349.8C483.47 1341.17 485 1333.18 486.2 1324.9C487.4 1316.62 488.27 1307.68 489.3 1300.1C490.33 1292.52 491.18 1287.33 492.4 1279.4C493.62 1271.47 495.03 1260.43 496.6 1252.5C498.17 1244.57 499.9 1239.4 501.8 1231.8C503.7 1224.2 506.73 1213.02 508 1206.9C509.27 1200.78 508.32 1201.97 509.4 1195.1C510.48 1188.23 512.62 1174.05 514.5 1165.7C516.38 1157.35 518.45 1152.25 520.7 1145C522.95 1137.75 525.75 1128.42 528 1122.2C530.25 1115.98 532.13 1112.53 534.2 1107.7C536.27 1102.87 538.15 1098.03 540.4 1093.2C542.65 1088.37 545.62 1083.88 547.7 1078.7C549.78 1073.52 550.83 1066.58 552.9 1062.1C554.97 1057.62 557.7 1055.25 560.1 1051.8C562.5 1048.35 564.37 1044.85 567.3 1041.4C570.23 1037.95 574.93 1034.55 577.7 1031.1C580.47 1027.65 581.13 1024.33 583.9 1020.7C586.67 1017.07 590.85 1012.4 594.3 1009.3C597.75 1006.2 601.15 1004.87 604.6 1002.1C608.05 999.33 610.85 996.33 615 992.7C619.15 989.07 624.67 983.4 629.5 980.3C634.33 977.2 639.87 975.82 644 974.1C648.13 972.38 650.17 972.07 654.3 970C658.43 967.93 663.27 964.65 668.8 961.7C674.33 958.75 681.97 955.07 687.5 952.3C693.03 949.53 696.58 947.58 702 945.1C707.42 942.62 714.08 940.12 720 937.4C725.92 934.67 730.42 932.07 737.5 928.75C744.58 925.43 755 920.42 762.5 917.5C770 914.58 774.67 913.12 782.5 911.25C790.33 909.38 800.75 908.33 809.5 906.25C818.25 904.17 826.17 901.25 835 898.75C843.83 896.25 852.92 893.75 862.5 891.25C872.08 888.75 881.67 886.25 892.5 883.75C903.33 881.25 917.08 878.33 927.5 876.25C937.92 874.17 944.17 872.92 955 871.25C965.83 869.58 977.5 867.42 992.5 866.25C1007.5 865.08 1026.25 864.67 1045 864.25C1063.75 863.83 1080.42 863.98 1105 863.75C1129.58 863.52 1177.92 863.04 1192.5 862.9" stroke="#800080" stroke-width="2.9" stroke-linejoin="round"/>
</g>
<path d="M809.26 862.6V1516.4" stroke="#000" stroke-width="2.9"/>
<rect x="454.4" y="862.6" width="828.0" height="653.8" fill="none" stroke="#000" stroke-width="2.7"/>
<path d="M572.69 1516.4v-10.2M572.69 862.6v10.2M690.97 1516.4v-10.2M690.97 862.6v10.2M809.26 1516.4v-10.2M809.26 862.6v10.2M927.54 1516.4v-10.2M927.54 862.6v10.2M1045.83 1516.4v-10.2M1045.83 862.6v10.2M1164.11 1516.4v-10.2M1164.11 862.6v10.2M454.4 1483.71h6.4M1282.4 1483.71h-6.4M454.4 1451.02h10.2M1282.4 1451.02h-10.2M454.4 1418.33h6.4M1282.4 1418.33h-6.4M454.4 1385.64h10.2M1282.4 1385.64h-10.2M454.4 1352.95h6.4M1282.4 1352.95h-6.4M454.4 1320.26h10.2M1282.4 1320.26h-10.2M454.4 1287.57h6.4M1282.4 1287.57h-6.4M454.4 1254.88h10.2M1282.4 1254.88h-10.2M454.4 1222.19h6.4M1282.4 1222.19h-6.4M454.4 1189.50h10.2M1282.4 1189.50h-10.2M454.4 1156.81h6.4M1282.4 1156.81h-6.4M454.4 1124.12h10.2M1282.4 1124.12h-10.2M454.4 1091.43h6.4M1282.4 1091.43h-6.4M454.4 1058.74h10.2M1282.4 1058.74h-10.2M454.4 1026.05h6.4M1282.4 1026.05h-6.4M454.4 993.36h10.2M1282.4 993.36h-10.2M454.4 960.67h6.4M1282.4 960.67h-6.4M454.4 927.98h10.2M1282.4 927.98h-10.2M454.4 895.29h6.4M1282.4 895.29h-6.4" stroke="#000" stroke-width="2.5" fill="none"/>
<text class="t" font-size="28.9" transform="translate(454.4 1544.9) scale(1.0 1.07)" text-anchor="middle">0.00</text>
<text class="t" font-size="28.9" transform="translate(572.69 1544.9) scale(1.0 1.07)" text-anchor="middle">0.01</text>
<text class="t" font-size="28.9" transform="translate(690.97 1544.9) scale(1.0 1.07)" text-anchor="middle">0.02</text>
<text class="t" font-size="28.9" transform="translate(809.26 1544.9) scale(1.0 1.07)" text-anchor="middle">0.03</text>
<text class="t" font-size="28.9" transform="translate(927.54 1544.9) scale(1.0 1.07)" text-anchor="middle">0.04</text>
<text class="t" font-size="28.9" transform="translate(1045.83 1544.9) scale(1.0 1.07)" text-anchor="middle">0.05</text>
<text class="t" font-size="28.9" transform="translate(1164.11 1544.9) scale(1.0 1.07)" text-anchor="middle">0.06</text>
<text class="t" font-size="28.9" transform="translate(1282.4 1544.9) scale(1.0 1.07)" text-anchor="middle">0.07</text>
<text class="t" font-size="28.9" transform="translate(446.6 1524.7) scale(1.0 1.07)" text-anchor="end">0.0</text>
<text class="t" font-size="28.9" transform="translate(446.6 1459.32) scale(1.0 1.07)" text-anchor="end">0.1</text>
<text class="t" font-size="28.9" transform="translate(446.6 1393.94) scale(1.0 1.07)" text-anchor="end">0.2</text>
<text class="t" font-size="28.9" transform="translate(446.6 1328.56) scale(1.0 1.07)" text-anchor="end">0.3</text>
<text class="t" font-size="28.9" transform="translate(446.6 1263.18) scale(1.0 1.07)" text-anchor="end">0.4</text>
<text class="t" font-size="28.9" transform="translate(446.6 1197.8) scale(1.0 1.07)" text-anchor="end">0.5</text>
<text class="t" font-size="28.9" transform="translate(446.6 1132.42) scale(1.0 1.07)" text-anchor="end">0.6</text>
<text class="t" font-size="28.9" transform="translate(446.6 1067.04) scale(1.0 1.07)" text-anchor="end">0.7</text>
<text class="t" font-size="28.9" transform="translate(446.6 1001.66) scale(1.0 1.07)" text-anchor="end">0.8</text>
<text class="t" font-size="28.9" transform="translate(446.6 936.28) scale(1.0 1.07)" text-anchor="end">0.9</text>
<text class="t" font-size="28.9" transform="translate(446.6 870.9) scale(1.0 1.07)" text-anchor="end">1.0</text>
<rect x="975.6" y="877.2" width="292.6" height="134.6" fill="#fff" stroke="#000" stroke-width="2.2"/>
<path d="M994.3 900h43.2" stroke="#f00" stroke-width="2.5"/>
<path d="M994.3 942.5h43.2" stroke="#00f" stroke-width="2.5"/>
<path d="M994.3 985h43.2" stroke="#800080" stroke-width="2.5"/>
<text class="l" font-size="27.8" transform="translate(1067.8 910)" textLength="125.8" lengthAdjust="spacingAndGlyphs" stroke-width="1.00">Train Set</text>
<text class="l" font-size="27.8" transform="translate(1067.8 952.5)" textLength="107.6" lengthAdjust="spacingAndGlyphs" stroke-width="1.00">Test Set</text>
<text class="l" font-size="27.8" transform="translate(1067.8 995)" textLength="188.2" lengthAdjust="spacingAndGlyphs" stroke-width="1.00">Blind Test Set</text>
<text class="l" font-size="30.4" transform="translate(760.2 1581.8)" textLength="215.2" lengthAdjust="spacingAndGlyphs" stroke-width="1.09">Absolute Error</text>
<text class="l" font-size="30.4" transform="translate(398 1365.8) rotate(-90)" textLength="345.0" lengthAdjust="spacingAndGlyphs" stroke-width="1.09">Cumulative Probability</text>
<text class="t" font-size="50" transform="translate(814.5 1630.2) scale(0.93 1.1)">(</text>
<text class="t" font-size="46.5" transform="translate(842.8 1629) scale(1.08 1.0)" text-anchor="middle">c</text>
<text class="t" font-size="50" transform="translate(855.8 1630.2) scale(0.93 1.1)">)</text>
</g>
</svg></body></html>
